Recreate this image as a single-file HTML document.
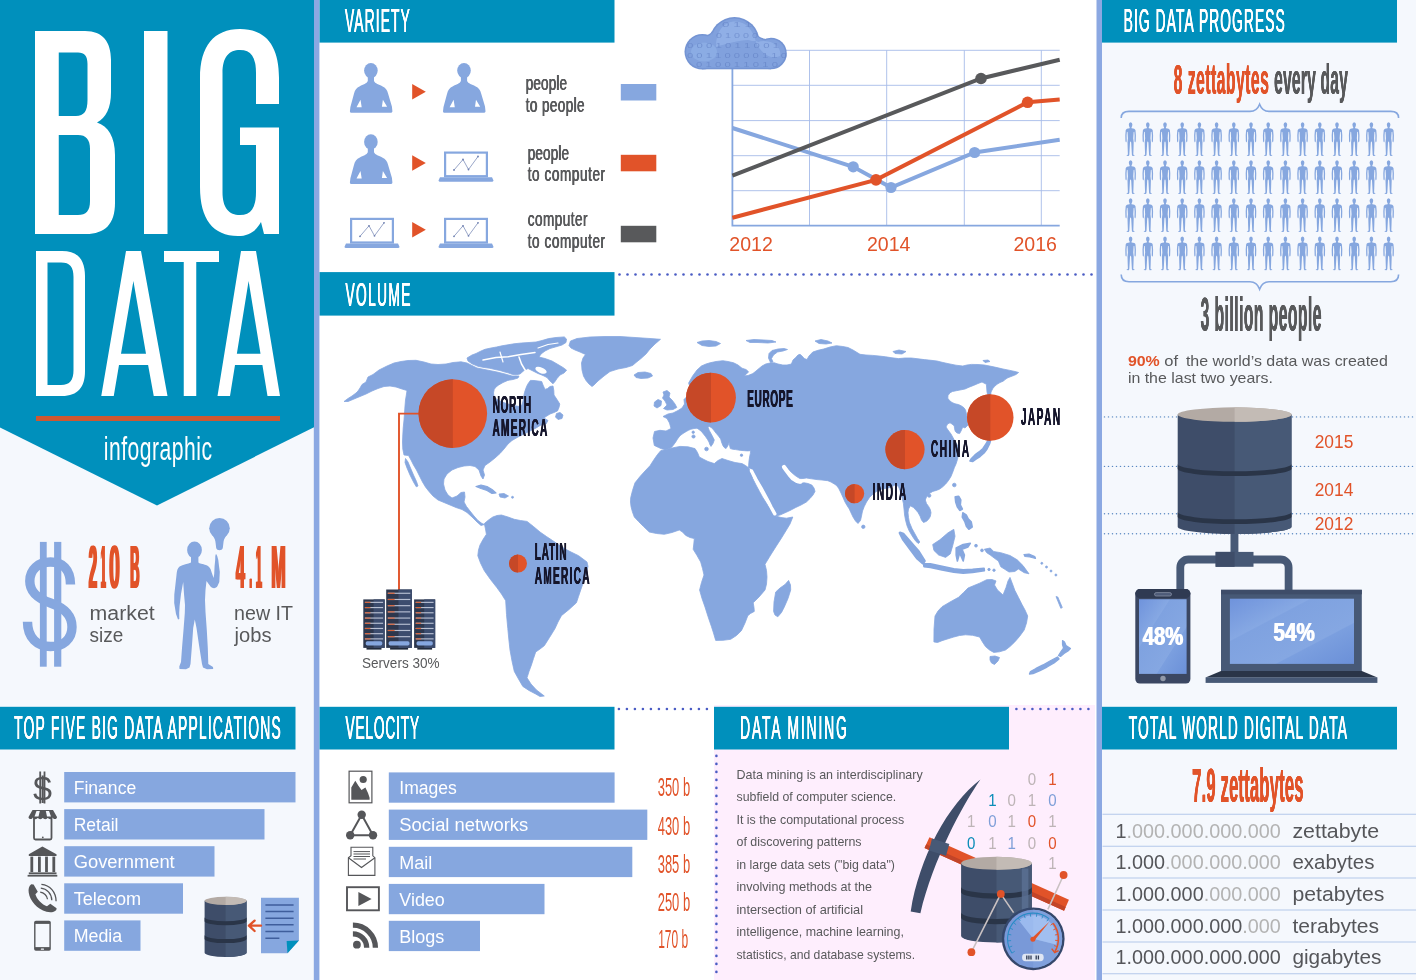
<!DOCTYPE html>
<html lang="en">
<head>
<meta charset="utf-8">
<title>Big Data Infographic</title>
<style>
html,body{margin:0;padding:0;background:#ffffff;}
body{width:1416px;height:980px;overflow:hidden;font-family:"Liberation Sans",sans-serif;}
svg{display:block;will-change:transform;}
svg text{font-family:"Liberation Sans",sans-serif;}
</style>
</head>
<body>
<svg width="1416" height="980" viewBox="0 0 1416 980">
<rect x="0" y="0" width="1416" height="980" fill="#ffffff"/>
<rect x="0" y="0" width="316" height="980" fill="#f5f8fd"/>
<rect x="1100" y="0" width="316" height="980" fill="#f5f8fd"/>
<rect x="714" y="705" width="381" height="275" fill="#feeefd"/>
<rect x="313.8" y="0" width="5.6" height="980" fill="#8ba8e2"/>
<rect x="1096.5" y="0" width="5.5" height="980" fill="#8ba8e2"/>
<g fill="#4a5cc4"><circle cx="619.5" cy="274.5" r="1.3"/><circle cx="627.5" cy="274.5" r="1.3"/><circle cx="635.5" cy="274.5" r="1.3"/><circle cx="643.5" cy="274.5" r="1.3"/><circle cx="651.5" cy="274.5" r="1.3"/><circle cx="659.5" cy="274.5" r="1.3"/><circle cx="667.5" cy="274.5" r="1.3"/><circle cx="675.5" cy="274.5" r="1.3"/><circle cx="683.5" cy="274.5" r="1.3"/><circle cx="691.5" cy="274.5" r="1.3"/><circle cx="699.5" cy="274.5" r="1.3"/><circle cx="707.5" cy="274.5" r="1.3"/><circle cx="715.5" cy="274.5" r="1.3"/><circle cx="723.5" cy="274.5" r="1.3"/><circle cx="731.5" cy="274.5" r="1.3"/><circle cx="739.5" cy="274.5" r="1.3"/><circle cx="747.5" cy="274.5" r="1.3"/><circle cx="755.5" cy="274.5" r="1.3"/><circle cx="763.5" cy="274.5" r="1.3"/><circle cx="771.5" cy="274.5" r="1.3"/><circle cx="779.5" cy="274.5" r="1.3"/><circle cx="787.5" cy="274.5" r="1.3"/><circle cx="795.5" cy="274.5" r="1.3"/><circle cx="803.5" cy="274.5" r="1.3"/><circle cx="811.5" cy="274.5" r="1.3"/><circle cx="819.5" cy="274.5" r="1.3"/><circle cx="827.5" cy="274.5" r="1.3"/><circle cx="835.5" cy="274.5" r="1.3"/><circle cx="843.5" cy="274.5" r="1.3"/><circle cx="851.5" cy="274.5" r="1.3"/><circle cx="859.5" cy="274.5" r="1.3"/><circle cx="867.5" cy="274.5" r="1.3"/><circle cx="875.5" cy="274.5" r="1.3"/><circle cx="883.5" cy="274.5" r="1.3"/><circle cx="891.5" cy="274.5" r="1.3"/><circle cx="899.5" cy="274.5" r="1.3"/><circle cx="907.5" cy="274.5" r="1.3"/><circle cx="915.5" cy="274.5" r="1.3"/><circle cx="923.5" cy="274.5" r="1.3"/><circle cx="931.5" cy="274.5" r="1.3"/><circle cx="939.5" cy="274.5" r="1.3"/><circle cx="947.5" cy="274.5" r="1.3"/><circle cx="955.5" cy="274.5" r="1.3"/><circle cx="963.5" cy="274.5" r="1.3"/><circle cx="971.5" cy="274.5" r="1.3"/><circle cx="979.5" cy="274.5" r="1.3"/><circle cx="987.5" cy="274.5" r="1.3"/><circle cx="995.5" cy="274.5" r="1.3"/><circle cx="1003.5" cy="274.5" r="1.3"/><circle cx="1011.5" cy="274.5" r="1.3"/><circle cx="1019.5" cy="274.5" r="1.3"/><circle cx="1027.5" cy="274.5" r="1.3"/><circle cx="1035.5" cy="274.5" r="1.3"/><circle cx="1043.5" cy="274.5" r="1.3"/><circle cx="1051.5" cy="274.5" r="1.3"/><circle cx="1059.5" cy="274.5" r="1.3"/><circle cx="1067.5" cy="274.5" r="1.3"/><circle cx="1075.5" cy="274.5" r="1.3"/><circle cx="1083.5" cy="274.5" r="1.3"/><circle cx="1091.5" cy="274.5" r="1.3"/></g>
<g fill="#4a5cc4"><circle cx="618.9" cy="709" r="1.3"/><circle cx="626.9" cy="709" r="1.3"/><circle cx="634.9" cy="709" r="1.3"/><circle cx="642.9" cy="709" r="1.3"/><circle cx="650.9" cy="709" r="1.3"/><circle cx="658.9" cy="709" r="1.3"/><circle cx="666.9" cy="709" r="1.3"/><circle cx="674.9" cy="709" r="1.3"/><circle cx="682.9" cy="709" r="1.3"/><circle cx="690.9" cy="709" r="1.3"/><circle cx="698.9" cy="709" r="1.3"/><circle cx="706.9" cy="709" r="1.3"/></g>
<g fill="#4a5cc4"><circle cx="1016.4" cy="709" r="1.3"/><circle cx="1024.4" cy="709" r="1.3"/><circle cx="1032.4" cy="709" r="1.3"/><circle cx="1040.4" cy="709" r="1.3"/><circle cx="1048.4" cy="709" r="1.3"/><circle cx="1056.4" cy="709" r="1.3"/><circle cx="1064.4" cy="709" r="1.3"/><circle cx="1072.4" cy="709" r="1.3"/><circle cx="1080.4" cy="709" r="1.3"/><circle cx="1088.4" cy="709" r="1.3"/></g>
<g fill="#4a5cc4"><circle cx="716.4" cy="755.9" r="1.3"/><circle cx="716.4" cy="763.9" r="1.3"/><circle cx="716.4" cy="771.9" r="1.3"/><circle cx="716.4" cy="779.9" r="1.3"/><circle cx="716.4" cy="787.9" r="1.3"/><circle cx="716.4" cy="795.9" r="1.3"/><circle cx="716.4" cy="803.9" r="1.3"/><circle cx="716.4" cy="811.9" r="1.3"/><circle cx="716.4" cy="819.9" r="1.3"/><circle cx="716.4" cy="827.9" r="1.3"/><circle cx="716.4" cy="835.9" r="1.3"/><circle cx="716.4" cy="843.9" r="1.3"/><circle cx="716.4" cy="851.9" r="1.3"/><circle cx="716.4" cy="859.9" r="1.3"/><circle cx="716.4" cy="867.9" r="1.3"/><circle cx="716.4" cy="875.9" r="1.3"/><circle cx="716.4" cy="883.9" r="1.3"/><circle cx="716.4" cy="891.9" r="1.3"/><circle cx="716.4" cy="899.9" r="1.3"/><circle cx="716.4" cy="907.9" r="1.3"/><circle cx="716.4" cy="915.9" r="1.3"/><circle cx="716.4" cy="923.9" r="1.3"/><circle cx="716.4" cy="931.9" r="1.3"/><circle cx="716.4" cy="939.9" r="1.3"/><circle cx="716.4" cy="947.9" r="1.3"/><circle cx="716.4" cy="955.9" r="1.3"/><circle cx="716.4" cy="963.9" r="1.3"/><circle cx="716.4" cy="971.9" r="1.3"/></g>
<rect x="319.5" y="0" width="295" height="42.6" fill="#0090bc"/>
<text transform="translate(344.80,31.65) scale(0.4150,1)" font-size="33.2" fill="#ffffff" font-weight="normal" letter-spacing="2.776" >VARIETY</text><text transform="translate(344.98,31.65) scale(0.4150,1)" font-size="33.2" fill="#ffffff" font-weight="normal" letter-spacing="2.776" >VARIETY</text><text transform="translate(345.16,31.65) scale(0.4150,1)" font-size="33.2" fill="#ffffff" font-weight="normal" letter-spacing="2.776" >VARIETY</text>
<rect x="319.5" y="272.1" width="295" height="43.5" fill="#0090bc"/>
<text transform="translate(345.30,305.7) scale(0.4150,1)" font-size="33.2" fill="#ffffff" font-weight="normal" letter-spacing="3.255" >VOLUME</text><text transform="translate(345.48,305.7) scale(0.4150,1)" font-size="33.2" fill="#ffffff" font-weight="normal" letter-spacing="3.255" >VOLUME</text><text transform="translate(345.66,305.7) scale(0.4150,1)" font-size="33.2" fill="#ffffff" font-weight="normal" letter-spacing="3.255" >VOLUME</text>
<rect x="319.5" y="706.8" width="295" height="42.7" fill="#0090bc"/>
<text transform="translate(345.30,738.9) scale(0.4150,1)" font-size="33.2" fill="#ffffff" font-weight="normal" letter-spacing="1.893" >VELOCITY</text><text transform="translate(345.48,738.9) scale(0.4150,1)" font-size="33.2" fill="#ffffff" font-weight="normal" letter-spacing="1.893" >VELOCITY</text><text transform="translate(345.66,738.9) scale(0.4150,1)" font-size="33.2" fill="#ffffff" font-weight="normal" letter-spacing="1.893" >VELOCITY</text>
<rect x="714" y="706.8" width="295" height="42.7" fill="#0090bc"/>
<text transform="translate(740.00,738.9) scale(0.4150,1)" font-size="33.2" fill="#ffffff" font-weight="normal" letter-spacing="4.608" >DATA MINING</text><text transform="translate(740.18,738.9) scale(0.4150,1)" font-size="33.2" fill="#ffffff" font-weight="normal" letter-spacing="4.608" >DATA MINING</text><text transform="translate(740.36,738.9) scale(0.4150,1)" font-size="33.2" fill="#ffffff" font-weight="normal" letter-spacing="4.608" >DATA MINING</text>
<rect x="1102" y="0" width="295" height="42.6" fill="#0090bc"/>
<text transform="translate(1123.50,31.5) scale(0.4150,1)" font-size="33.2" fill="#ffffff" font-weight="normal" letter-spacing="2.669" >BIG DATA PROGRESS</text><text transform="translate(1123.68,31.5) scale(0.4150,1)" font-size="33.2" fill="#ffffff" font-weight="normal" letter-spacing="2.669" >BIG DATA PROGRESS</text><text transform="translate(1123.86,31.5) scale(0.4150,1)" font-size="33.2" fill="#ffffff" font-weight="normal" letter-spacing="2.669" >BIG DATA PROGRESS</text>
<rect x="1102" y="706.8" width="295" height="42.7" fill="#0090bc"/>
<text transform="translate(1128.60,738.9) scale(0.4150,1)" font-size="33.2" fill="#ffffff" font-weight="normal" letter-spacing="2.735" >TOTAL WORLD DIGITAL DATA</text><text transform="translate(1128.78,738.9) scale(0.4150,1)" font-size="33.2" fill="#ffffff" font-weight="normal" letter-spacing="2.735" >TOTAL WORLD DIGITAL DATA</text><text transform="translate(1128.96,738.9) scale(0.4150,1)" font-size="33.2" fill="#ffffff" font-weight="normal" letter-spacing="2.735" >TOTAL WORLD DIGITAL DATA</text>
<rect x="0" y="706.8" width="295.5" height="42.7" fill="#0090bc"/>
<text transform="translate(14.00,738.9) scale(0.4150,1)" font-size="33.2" fill="#ffffff" font-weight="normal" letter-spacing="3.049" >TOP FIVE BIG DATA APPLICATIONS</text><text transform="translate(14.18,738.9) scale(0.4150,1)" font-size="33.2" fill="#ffffff" font-weight="normal" letter-spacing="3.049" >TOP FIVE BIG DATA APPLICATIONS</text><text transform="translate(14.36,738.9) scale(0.4150,1)" font-size="33.2" fill="#ffffff" font-weight="normal" letter-spacing="3.049" >TOP FIVE BIG DATA APPLICATIONS</text>
<polygon points="0,0 314,0 314,427.2 157,505.5 0,427.6" fill="#0090bc"/>
<path d="M35,31 H85 C103,31 111,42 111,60 V92 C111,108 106,118 97,122.5 C108,126 115,137 115,155 V203 C115,224 105,234 86,234 H35 Z M58.75,52.5 H78 C84.5,52.5 87.5,56 87.5,64 V100 C87.5,111 84,116 76,116 H58.75 Z M58.75,135 H78 C86,135 90,139.5 90,149 V201 C90,211 86,215 78,215 H58.75 Z M144,31 H167.5 V234 H144 Z M279,104 V78 C279,46 266,29 240,29 C214,29 200,46 200,78 V187 C200,219 213,236 238,236 C249,236 256,231 261,222 L264,234 H279 V127.5 H240 V145 H256 V192 C256,208 251,215 240,215 C229,215 222.5,208 222.5,192 V73 C222.5,57 229,50 240,50 C251,50 256,57 256,73 V104 Z" fill="#ffffff" fill-rule="evenodd"/>
<path d="M36,251 H62 C78,251 85,260 85,276 V371 C85,387 78,396 62,396 H36 Z M47.5,262.5 H61 C70,262.5 73.5,267 73.5,277 V370 C73.5,380 70,385 61,385 H47.5 Z M101.25,396 L126,251 H141 L167.5,396 H153.75 L148.1,365 H119 L113.75,396 Z M121,353.75 H146 L133.4,281 Z M164,251 H219 V262 H196.25 V396 H183.75 V262 H164 Z M217.5,396 L241,251 H256 L280,396 H267.5 L262.4,365 H235 L230,396 Z M236.85,353.75 H260.5 L248.6,281 Z" fill="#ffffff" fill-rule="evenodd"/>
<rect x="36" y="416" width="244" height="5" fill="#cf5730"/>
<text transform="translate(103.80,460) scale(0.6400,1)" font-size="33" fill="#ffffff" font-weight="normal" letter-spacing="0.779" >infographic</text>
<g fill="#86a7df"><rect x="39.9" y="541.9" width="6.8" height="124.8"/><rect x="54.1" y="541.9" width="7.2" height="124.8"/></g>
<path d="M70.5,584.5 C70.5,569 62,562 50.5,562 C38.5,562 29.8,569.5 29.8,581 C29.8,592.5 38,598.5 50.5,603 C63,607.5 72,614 72,627 C72,639.5 63,646.5 50.5,646.5 C37.5,646.5 27.5,638 27.5,621.8" fill="none" stroke="#86a7df" stroke-width="9.4"/>
<text transform="translate(88.10,587.9) scale(0.2348,1)" font-size="62" fill="#e15329" font-weight="bold">2</text><text transform="translate(88.90,587.9) scale(0.2348,1)" font-size="62" fill="#e15329" font-weight="bold">2</text><text transform="translate(89.70,587.9) scale(0.2348,1)" font-size="62" fill="#e15329" font-weight="bold">2</text>
<text transform="translate(100.30,587.9) scale(0.1275,1)" font-size="62" fill="#e15329" font-weight="bold">1</text><text transform="translate(101.10,587.9) scale(0.1275,1)" font-size="62" fill="#e15329" font-weight="bold">1</text><text transform="translate(101.90,587.9) scale(0.1275,1)" font-size="62" fill="#e15329" font-weight="bold">1</text>
<text transform="translate(108.50,587.9) scale(0.3043,1)" font-size="62" fill="#e15329" font-weight="bold">0</text><text transform="translate(109.30,587.9) scale(0.3043,1)" font-size="62" fill="#e15329" font-weight="bold">0</text><text transform="translate(110.10,587.9) scale(0.3043,1)" font-size="62" fill="#e15329" font-weight="bold">0</text>
<text transform="translate(129.40,587.9) scale(0.2056,1)" font-size="62" fill="#e15329" font-weight="bold">B</text><text transform="translate(130.20,587.9) scale(0.2056,1)" font-size="62" fill="#e15329" font-weight="bold">B</text><text transform="translate(131.00,587.9) scale(0.2056,1)" font-size="62" fill="#e15329" font-weight="bold">B</text>
<text transform="translate(235.20,587.9) scale(0.2551,1)" font-size="62" fill="#e15329" font-weight="bold">4</text><text transform="translate(236.00,587.9) scale(0.2551,1)" font-size="62" fill="#e15329" font-weight="bold">4</text><text transform="translate(236.80,587.9) scale(0.2551,1)" font-size="62" fill="#e15329" font-weight="bold">4</text>
<text transform="translate(248.70,587.9) scale(0.1971,1)" font-size="62" fill="#e15329" font-weight="bold">.</text><text transform="translate(249.00,587.9) scale(0.1971,1)" font-size="62" fill="#e15329" font-weight="bold">.</text><text transform="translate(249.30,587.9) scale(0.1971,1)" font-size="62" fill="#e15329" font-weight="bold">.</text>
<text transform="translate(255.20,587.9) scale(0.1681,1)" font-size="62" fill="#e15329" font-weight="bold">1</text><text transform="translate(256.00,587.9) scale(0.1681,1)" font-size="62" fill="#e15329" font-weight="bold">1</text><text transform="translate(256.80,587.9) scale(0.1681,1)" font-size="62" fill="#e15329" font-weight="bold">1</text>
<text transform="translate(270.40,587.9) scale(0.2802,1)" font-size="62" fill="#e15329" font-weight="bold">M</text><text transform="translate(271.20,587.9) scale(0.2802,1)" font-size="62" fill="#e15329" font-weight="bold">M</text><text transform="translate(272.00,587.9) scale(0.2802,1)" font-size="62" fill="#e15329" font-weight="bold">M</text>
<text x="89.6" y="620.2" font-size="20" fill="#58595b" font-weight="normal" text-anchor="start" textLength="65.1" lengthAdjust="spacingAndGlyphs" >market</text>
<text x="89.6" y="642.3" font-size="20" fill="#58595b" font-weight="normal" text-anchor="start" textLength="33.7" lengthAdjust="spacingAndGlyphs" >size</text>
<text x="234.1" y="620.2" font-size="20" fill="#58595b" font-weight="normal" text-anchor="start" textLength="58.9" lengthAdjust="spacingAndGlyphs" >new IT</text>
<text x="234.6" y="642.3" font-size="20" fill="#58595b" font-weight="normal" text-anchor="start" textLength="37" lengthAdjust="spacingAndGlyphs" >jobs</text>
<path d="M191,557 L191,562.5 C188,564 183,564.5 179.6,566.5 C177.5,568 176.8,571 176.5,575 L174.3,594.5 L174.2,603 L176,614 L178,619.5 L179.3,619 L179.2,613 L179.6,606 L181,594 L183.2,582 L184,594 L185,605 L184.8,613 L183.5,630 L182,648 L181,662 L179.3,666.5 L179.5,669 L186,669.3 L189.5,667.5 L190.5,664 L192,645 L193.2,628 L194.8,619.5 L196.5,628 L199,645 L202,664 L203,667.5 L207,669.3 L213.2,669 L213,667 L208.3,664 L207.8,648 L206.8,630 L205.5,612 L205,600 L205.5,590 L206.5,581 L210.5,586.5 C213,589 216,588.5 217.5,586 L219.3,582 L219.8,572 L219,566 L218.3,560 L217.2,556 L216,553.8 L215.3,556 L215.2,560 L214.6,566 L214.2,574 L213.6,578 L211.5,572 C210.5,568 209,566 206,565 C203,564 199,563.5 198.4,562.5 L198.4,557 Z" fill="#86a7df"/>
<ellipse cx="194.5" cy="550" rx="7.4" ry="8.5" fill="#86a7df"/>
<circle cx="219.5" cy="528.2" r="10.3" fill="#86a7df"/><path d="M213,536 C214.5,538.5 215.4,540 215.6,543 L216.2,548 C217,551 222,551 222.8,548 L223.4,543 C223.6,540 224.5,538.5 226,536 Z" fill="#86a7df"/>
<rect x="64.2" y="772" width="231.3" height="30.4" fill="#86a7df"/>
<text x="73.7" y="793.7" font-size="18.8" fill="#ffffff" font-weight="normal" text-anchor="start" textLength="62.5" lengthAdjust="spacingAndGlyphs" >Finance</text>
<rect x="64.2" y="809.1" width="200.3" height="30.4" fill="#86a7df"/>
<text x="73.7" y="830.8000000000001" font-size="18.8" fill="#ffffff" font-weight="normal" text-anchor="start" textLength="44.8" lengthAdjust="spacingAndGlyphs" >Retail</text>
<rect x="64.2" y="846.2" width="150.3" height="30.4" fill="#86a7df"/>
<text x="73.7" y="867.9000000000001" font-size="18.8" fill="#ffffff" font-weight="normal" text-anchor="start" textLength="101" lengthAdjust="spacingAndGlyphs" >Government</text>
<rect x="64.2" y="883.3" width="118.8" height="30.4" fill="#86a7df"/>
<text x="73.7" y="905.0" font-size="18.8" fill="#ffffff" font-weight="normal" text-anchor="start" textLength="67.5" lengthAdjust="spacingAndGlyphs" >Telecom</text>
<rect x="64.2" y="920.4" width="76.3" height="30.4" fill="#86a7df"/>
<text x="73.7" y="942.1" font-size="18.8" fill="#ffffff" font-weight="normal" text-anchor="start" textLength="48.5" lengthAdjust="spacingAndGlyphs" >Media</text>
<text x="42.5" y="800" font-size="33" fill="#555659" font-weight="normal" text-anchor="middle" textLength="19" lengthAdjust="spacingAndGlyphs" >$</text>
<g fill="#555659"><rect x="39.3" y="771.5" width="1.8" height="32"/><rect x="43.6" y="771.5" width="1.8" height="32"/></g>
<g fill="none" stroke="#555659" stroke-width="1.8"><rect x="34" y="817" width="17.5" height="22.5" rx="1.5"/></g><path d="M32.5,810 H53 L57,817 C57,819.5 53.5,819.8 52.8,817.5 C52,819.8 48.6,819.8 47.8,817.5 C47,819.8 43.6,819.8 42.8,817.5 C42,819.8 38.6,819.8 37.8,817.5 C37,819.8 33.6,819.8 32.8,817.5 C32,819.8 28.5,819.5 28.5,817 Z" fill="#555659"/><g fill="#f5f8fd"><path d="M36.5,811 L34.5,816.5 L38.5,816.5 L39.8,811 Z"/><path d="M45.8,811 L47,816.5 L51,816.5 L49,811 Z"/></g><circle cx="42.8" cy="837.3" r="0.9" fill="#555659"/>
<g fill="#555659"><path d="M42.4,846.4 L56.5,854.3 V855.9 H28.8 V854.3 Z"/><rect x="30.4" y="856.6" width="2.8" height="15.5"/><rect x="38" y="856.6" width="2.8" height="15.5"/><rect x="45.1" y="856.6" width="2.8" height="15.5"/><rect x="52.4" y="856.6" width="2.8" height="15.5"/><rect x="28.8" y="872.4" width="27.7" height="1.9"/><rect x="27.6" y="874.9" width="29.7" height="1.7"/></g>
<path d="M31.2,884.3 C28.9,886 28.2,889 28.7,892.5 C30,901 37,909 46.5,911.8 C50.5,912.8 54.2,912.3 56.3,910 L56.6,908.3 L50.3,903.8 L47,906.3 C42.2,905 36.6,899 35.4,894.3 L37.8,891.8 L33.6,884.6 Z" fill="#555659"/><g fill="none" stroke="#555659" stroke-width="1.3"><path d="M40.2,892.2 C43.8,892.6 47.2,895.5 47.5,899.3"/><path d="M40.8,888.2 C46.8,888.8 51.6,893.5 51.8,900.2"/><path d="M41.4,884.3 C50,885 56,892 56.1,901.2"/></g>
<rect x="34.1" y="920.8" width="16.7" height="30" rx="1.8" fill="#555659"/><rect x="35.5" y="923.9" width="13.9" height="23.2" fill="#f5f8fd"/><rect x="40.8" y="948.6" width="3.2" height="1.2" rx="0.5" fill="#f5f8fd"/>
<path d="M204.6,900.8 V952.8 A21.0,4.1 0 0 0 246.6,952.8 V900.8 Z" fill="#3e4d69"/><path d="M225.6,900.8 V956.9 A21.0,4.1 0 0 0 246.6,952.8 V900.8 Z" fill="#475976"/><path d="M204.6,917.18 A21.0,4.1 0 0 0 246.6,917.18 V921.18 A21.0,4.1 0 0 1 204.6,921.18 Z" fill="#2a3548"/><path d="M204.6,935.016 A21.0,4.1 0 0 0 246.6,935.016 V939.016 A21.0,4.1 0 0 1 204.6,939.016 Z" fill="#2a3548"/><ellipse cx="225.6" cy="900.8" rx="21.0" ry="4.1" fill="#b3aaa4"/><path d="M225.6,896.6999999999999 A21.0,4.1 0 0 1 225.6,904.9 Z" fill="#c3bbb5"/>
<path d="M261,897.7 H298.9 V940.5 L287.5,953.2 H261 Z" fill="#86a7df"/><path d="M286.6,940.9 L298.9,940.5 L287.5,953.2 Z" fill="#0090bc"/><g stroke="#3f5e9c" stroke-width="1.5"><path d="M265.4,904.9 H293.6 M265.4,911.5 H293.6 M265.4,918.2 H293.6 M265.4,924.8 H293.6 M265.4,931.4 H293.6 M265.4,938.2 H279.4"/></g><path d="M261,925.7 H250 M254.6,920.6 L248.9,925.7 L254.6,931" fill="none" stroke="#e15329" stroke-width="2.3" stroke-linejoin="round" stroke-linecap="round"/>
<path d="M367.79999999999995,75 L367.79999999999995,81 C366.9,83.5 362.9,84.5 359.9,86.2 C356.4,87.5 354.9,90 353.9,94 L350.4,107 L349.9,111.2 C349.9,112.3 350.59999999999997,112.8 351.9,112.8 L390.2,112.8 C391.5,112.8 392.4,112.3 392.4,111.2 L391.9,106.5 L388.2,94 C387.2,90 385.7,87.5 382.2,86.2 C379.2,84.5 374.9,83.5 374.0,81 L374.0,75 Z" fill="#86a7df"/><ellipse cx="370.9" cy="70.6" rx="6.8" ry="7.7" fill="#86a7df"/><path d="M360.5,99.7 L356.5,107.2 L361.7,107.2 Z M382.9,99.7 L381.9,106.7 L387.09999999999997,106.7 Z" fill="#ffffff"/>
<path d="M460.9,75 L460.9,81 C460,83.5 456,84.5 453,86.2 C449.5,87.5 448,90 447,94 L443.5,107 L443,111.2 C443,112.3 443.7,112.8 445,112.8 L483.3,112.8 C484.6,112.8 485.5,112.3 485.5,111.2 L485,106.5 L481.3,94 C480.3,90 478.8,87.5 475.3,86.2 C472.3,84.5 468,83.5 467.1,81 L467.1,75 Z" fill="#86a7df"/><ellipse cx="464" cy="70.6" rx="6.8" ry="7.7" fill="#86a7df"/><path d="M453.6,99.7 L449.6,107.2 L454.8,107.2 Z M476,99.7 L475,106.7 L480.2,106.7 Z" fill="#ffffff"/>
<path d="M367.79999999999995,146.3 L367.79999999999995,152.3 C366.9,154.8 362.9,155.8 359.9,157.5 C356.4,158.8 354.9,161.3 353.9,165.3 L350.4,178.3 L349.9,182.5 C349.9,183.60000000000002 350.59999999999997,184.10000000000002 351.9,184.10000000000002 L390.2,184.10000000000002 C391.5,184.10000000000002 392.4,183.60000000000002 392.4,182.5 L391.9,177.8 L388.2,165.3 C387.2,161.3 385.7,158.8 382.2,157.5 C379.2,155.8 374.9,154.8 374.0,152.3 L374.0,146.3 Z" fill="#86a7df"/><ellipse cx="370.9" cy="141.9" rx="6.8" ry="7.7" fill="#86a7df"/><path d="M360.5,171.0 L356.5,178.5 L361.7,178.5 Z M382.9,171.0 L381.9,178.0 L387.09999999999997,178.0 Z" fill="#ffffff"/>
<rect x="445.1" y="152.6" width="41.8" height="23.6" fill="#ffffff" stroke="#86a7df" stroke-width="2.2"/><path d="M440,177.3 H492 L493.5,180.5 C493.5,181.5 492.5,181.8 491.5,181.8 H440.5 C439.5,181.8 438.5,181.5 438.5,180.5 Z" fill="#86a7df"/><polyline points="454,170.0 463,159.5 468.5,169.5 478,156.5" fill="none" stroke="#6d7fb0" stroke-width="0.7"/><circle cx="454" cy="170.0" r="0.9" fill="#6d7fb0"/><circle cx="463" cy="159.5" r="0.9" fill="#6d7fb0"/><circle cx="468.5" cy="169.5" r="0.9" fill="#6d7fb0"/><circle cx="478" cy="156.5" r="0.9" fill="#6d7fb0"/>
<rect x="351.1" y="218.9" width="41.8" height="23.6" fill="#ffffff" stroke="#86a7df" stroke-width="2.2"/><path d="M346,243.60000000000002 H398 L399.5,246.8 C399.5,247.8 398.5,248.10000000000002 397.5,248.10000000000002 H346.5 C345.5,248.10000000000002 344.5,247.8 344.5,246.8 Z" fill="#86a7df"/><polyline points="360,236.3 369,225.8 374.5,235.8 384,222.8" fill="none" stroke="#6d7fb0" stroke-width="0.7"/><circle cx="360" cy="236.3" r="0.9" fill="#6d7fb0"/><circle cx="369" cy="225.8" r="0.9" fill="#6d7fb0"/><circle cx="374.5" cy="235.8" r="0.9" fill="#6d7fb0"/><circle cx="384" cy="222.8" r="0.9" fill="#6d7fb0"/>
<rect x="445.1" y="218.9" width="41.8" height="23.6" fill="#ffffff" stroke="#86a7df" stroke-width="2.2"/><path d="M440,243.60000000000002 H492 L493.5,246.8 C493.5,247.8 492.5,248.10000000000002 491.5,248.10000000000002 H440.5 C439.5,248.10000000000002 438.5,247.8 438.5,246.8 Z" fill="#86a7df"/><polyline points="454,236.3 463,225.8 468.5,235.8 478,222.8" fill="none" stroke="#6d7fb0" stroke-width="0.7"/><circle cx="454" cy="236.3" r="0.9" fill="#6d7fb0"/><circle cx="463" cy="225.8" r="0.9" fill="#6d7fb0"/><circle cx="468.5" cy="235.8" r="0.9" fill="#6d7fb0"/><circle cx="478" cy="222.8" r="0.9" fill="#6d7fb0"/>
<polygon points="412.2,84.0 425.8,91.8 412.2,99.6" fill="#e15329"/>
<polygon points="412.2,155.2 425.8,163 412.2,170.8" fill="#e15329"/>
<polygon points="412.2,221.89999999999998 425.8,229.7 412.2,237.5" fill="#e15329"/>
<text transform="translate(525.40,90.3) scale(0.6600,1)" font-size="20.5" fill="#58595b" font-weight="normal" letter-spacing="0.232" >people</text><text transform="translate(525.70,90.3) scale(0.6600,1)" font-size="20.5" fill="#58595b" font-weight="normal" letter-spacing="0.232" >people</text><text transform="translate(526.00,90.3) scale(0.6600,1)" font-size="20.5" fill="#58595b" font-weight="normal" letter-spacing="0.232" >people</text>
<text transform="translate(525.40,111.8) scale(0.6600,1)" font-size="20.5" fill="#58595b" font-weight="normal" letter-spacing="0.610" >to people</text><text transform="translate(525.70,111.8) scale(0.6600,1)" font-size="20.5" fill="#58595b" font-weight="normal" letter-spacing="0.610" >to people</text><text transform="translate(526.00,111.8) scale(0.6600,1)" font-size="20.5" fill="#58595b" font-weight="normal" letter-spacing="0.610" >to people</text>
<text transform="translate(527.40,160) scale(0.6600,1)" font-size="20.5" fill="#58595b" font-weight="normal" letter-spacing="0.232" >people</text><text transform="translate(527.70,160) scale(0.6600,1)" font-size="20.5" fill="#58595b" font-weight="normal" letter-spacing="0.232" >people</text><text transform="translate(528.00,160) scale(0.6600,1)" font-size="20.5" fill="#58595b" font-weight="normal" letter-spacing="0.232" >people</text>
<text transform="translate(527.40,181.4) scale(0.6600,1)" font-size="20.5" fill="#58595b" font-weight="normal" letter-spacing="0.902" >to computer</text><text transform="translate(527.70,181.4) scale(0.6600,1)" font-size="20.5" fill="#58595b" font-weight="normal" letter-spacing="0.902" >to computer</text><text transform="translate(528.00,181.4) scale(0.6600,1)" font-size="20.5" fill="#58595b" font-weight="normal" letter-spacing="0.902" >to computer</text>
<text transform="translate(527.40,226.2) scale(0.6600,1)" font-size="20.5" fill="#58595b" font-weight="normal" letter-spacing="0.757" >computer</text><text transform="translate(527.70,226.2) scale(0.6600,1)" font-size="20.5" fill="#58595b" font-weight="normal" letter-spacing="0.757" >computer</text><text transform="translate(528.00,226.2) scale(0.6600,1)" font-size="20.5" fill="#58595b" font-weight="normal" letter-spacing="0.757" >computer</text>
<text transform="translate(527.40,248) scale(0.6600,1)" font-size="20.5" fill="#58595b" font-weight="normal" letter-spacing="0.902" >to computer</text><text transform="translate(527.70,248) scale(0.6600,1)" font-size="20.5" fill="#58595b" font-weight="normal" letter-spacing="0.902" >to computer</text><text transform="translate(528.00,248) scale(0.6600,1)" font-size="20.5" fill="#58595b" font-weight="normal" letter-spacing="0.902" >to computer</text>
<rect x="620.8" y="84" width="35.5" height="16.5" fill="#86a7df"/>
<rect x="620.8" y="154.8" width="35.5" height="16.5" fill="#e15329"/>
<rect x="620.8" y="225.8" width="35.5" height="16.5" fill="#58595b"/>
<path d="M732.4,50.3 H1059.7 M732.4,85.3 H1059.7 M732.4,120.6 H1059.7 M732.4,155.7 H1059.7 M732.4,190.7 H1059.7 M809.5,50.3 V225.6 M886.7,50.3 V225.6 M964.3,50.3 V225.6 M1041.3,50.3 V225.6" fill="none" stroke="#a6bbe9" stroke-width="0.9"/>
<path d="M732.4,66 V225.6 H1059.7" fill="none" stroke="#86a7df" stroke-width="1.8"/>
<polyline points="732.4,128 853.2,166.8 891,187.5 974.6,152.5 1059.7,139.8" fill="none" stroke="#86a7df" stroke-width="4"/>
<circle cx="853.2" cy="166.8" r="5.6" fill="#86a7df"/>
<circle cx="891" cy="187.5" r="5.6" fill="#86a7df"/>
<circle cx="974.6" cy="152.5" r="5.6" fill="#86a7df"/>
<polyline points="732.4,175.7 981,78.5 1059.7,59.7" fill="none" stroke="#58595b" stroke-width="4"/>
<circle cx="981" cy="78.5" r="5.8" fill="#58595b"/>
<polyline points="732.4,217.7 876,179.9 1027.6,102.3 1059.7,99.5" fill="none" stroke="#e15329" stroke-width="4"/>
<circle cx="876" cy="179.9" r="5.8" fill="#e15329"/>
<circle cx="1027.6" cy="102.3" r="5.8" fill="#e15329"/>
<text x="729.3" y="251" font-size="19.5" fill="#e15329" font-weight="normal" text-anchor="start" textLength="43.5" lengthAdjust="spacingAndGlyphs" >2012</text>
<text x="867" y="251" font-size="19.5" fill="#e15329" font-weight="normal" text-anchor="start" textLength="43.5" lengthAdjust="spacingAndGlyphs" >2014</text>
<text x="1013.4" y="251" font-size="19.5" fill="#e15329" font-weight="normal" text-anchor="start" textLength="43.5" lengthAdjust="spacingAndGlyphs" >2016</text>
<g fill="#7494d3" opacity="1"><circle cx="702.3" cy="51.8" r="17.8"/><circle cx="734.5" cy="42" r="25"/><circle cx="771" cy="53.5" r="15.8"/><rect x="702" y="44" width="69" height="25.3"/><path d="M704.5,35.3 Q709.5,35.6 712.5,30.6 L713,40 L704.5,40 Z"/><path d="M754.5,30.5 Q757.5,37.6 765,38.8 L765,46 L754,46 Z"/></g>
<g fill="#81a1dd" opacity="1"><circle cx="702.3" cy="51.8" r="16.2"/><circle cx="734.5" cy="42" r="23.4"/><circle cx="771" cy="53.5" r="14.200000000000001"/><rect x="702" y="44" width="69" height="23.7"/><path d="M704.5,36.9 Q709.5,37.2 712.5,32.2 L713,40 L704.5,40 Z"/><path d="M754.5,32.1 Q757.5,39.2 765,40.4 L765,46 L754,46 Z"/></g>
<ellipse cx="704" cy="52" rx="13" ry="9.5" fill="#8fb0e6" opacity="0.75"/>
<path d="M716,47 C716,31 724,21.5 735,21.5 C746,21.5 753,30 756,42 C761,54 771,60 780,56 C782,50 776,42.5 768,41.5 C764,40.5 761,41 758,42 C756,40 754,42 748,40 C740,40 724,44 716,47 Z" fill="#93b3e8" opacity="0.8"/>
<text x="722" y="27" font-size="7.5" fill="#5d7cc0" font-weight="normal" text-anchor="start" textLength="30" lengthAdjust="spacingAndGlyphs" opacity="0.55">0 1 1</text>
<text x="716" y="37.5" font-size="7.5" fill="#5d7cc0" font-weight="normal" text-anchor="start" textLength="42" lengthAdjust="spacingAndGlyphs" opacity="0.55">0 1 0 0 0</text>
<text x="687" y="48" font-size="7.5" fill="#5d7cc0" font-weight="normal" text-anchor="start" textLength="92" lengthAdjust="spacingAndGlyphs" opacity="0.55">0 0 0 1 0 1 1 0 0 1</text>
<text x="687" y="58" font-size="7.5" fill="#5d7cc0" font-weight="normal" text-anchor="start" textLength="100" lengthAdjust="spacingAndGlyphs" opacity="0.55">0 0 1 1 0 0 0 0 1 1 0</text>
<text x="696" y="67.3" font-size="7.5" fill="#5d7cc0" font-weight="normal" text-anchor="start" textLength="82" lengthAdjust="spacingAndGlyphs" opacity="0.55">0 1 0 0 1 1 0 1 0</text>
<g fill="#86a7df" stroke="#86a7df" stroke-width="0.8" stroke-linejoin="round"><polygon points="344,401.5 348,398.5 352,396 356,393 358,391 360,388 362,384.5 366,382 368,377 373,374.5 379,370 387,366 394,363 401,361.5 408,360.5 416,360.3 424,362 431,364 438,364.5 446,364 453,362.5 461,361.8 467,363 472,365.5 477,368 482,369 487,370 492,371 497,372 505,374 512,376 519,376 518,378 513,379.5 507.8,380.4 503,382.5 498.8,384.9 496,387 494.2,389.4 493.5,393 494,396.5 497,399.5 502,402 508,404 514,405.5 519,406.5 522,405 523,401 523.6,397 524.5,392.5 525.9,388.3 527.5,384.5 530.4,380.4 534,380.5 538,381 541.7,381.5 543,385 545,389.4 547.5,388.5 550,386.5 553,386 553.8,390.5 554,395 557,399.5 559.8,404 559,407.5 557.5,410.9 554,412.5 550,414 546,416.5 544,418 548,420.5 546,424 541,425 536,428 530,431 524,434 518,437 512,440.5 508,444 504,449 500,453.5 495,458 490,462 485,465.5 483,470 484.5,475 483,479 481,476 479,470 475,466.5 470,465.5 464,466 458,467.5 452,470 447,474 444,479 443.5,484 445,490 448,495 452,498 457,496 461,492.5 464.5,492 465,497 464,502 466.5,506.5 470,511 474,516 478,520.5 482,523.5 484.3,524.5 481,525.5 477,522 472,517 467,512.5 462,509.5 456,507.5 450,505 444,502.5 438,500 433,496 429,491.5 425.5,487 422.5,482 419.5,476 416.5,470 413.5,465 411,460 408.5,455.5 404,455 402.8,449 402.5,442 402.8,435 403.2,428 404,420 404.5,413 405,406 405.5,400 406.5,394 407,390.5 402,389 396,387 390,386 384,386.5 378,388.5 372,391 366,394 360,396.5 354,399 348,401.5"/><polygon points="405.5,458.5 408,462 410.5,468 413.5,475 416.5,481.5 418,486 416.3,486.8 413.5,482 410,475 407,468 405,462.5"/><polygon points="467,358 472,355 476,353.5 481,351 485,349.3 491,348 496.5,347 502,345.8 507.8,344.8 514,343.8 521.4,343 529,342.5 536,342 542,340.5 548.5,338.6 556,337.5 564.3,336.9 566.5,339 566,342.5 562,345 556,346.8 550,348.5 545,351 541,354 539,357 545,358.5 552,361 558,364.5 563,367.5 566.6,370.2 564,373 560,375 557,378.5 555,381.5 553,383.8 550,381 547,377.5 543,375.5 538,373.5 533,371 528,368.5 524,370.5 520,374 516,374.8 512,374.3 508,372.8 504,371.8 500,370.5 495,369.5 490,368.3 484,367.5 478,366.3 472,363.8 468,361"/><polygon points="556.5,413.5 560,412.5 563,415 562,418.5 558,419.5 555.5,417"/><polygon points="569,345.5 570.5,341 577,338.5 590,337 605,336.5 620,336.5 635,337.5 650,338.5 660.5,339.3 655,344 650,349 646,354 641,358.5 636,362.5 632.5,365.5 626,367.5 618,369 610,371.5 604,376 598,381 594,385 592,386.5 589,384 586,380.5 583.5,376 582,370 581.5,363 583,358 585.5,354.5 580,352 575,350 571,348"/><polygon points="634,375 638,372.5 645,372 651,373.5 652.5,376 648,378 641,378.5 636,377.5"/><polygon points="663,392 667,390.5 670,393 669,397 672,400 675,404 676.8,407.5 673,409.5 667,410 663.5,408.5 667,405 665,401 662.5,398 664,395"/><polygon points="654.5,402 658,399.5 661.5,401 661,405.5 657,408 654,406"/><polygon points="654.3,445.4 653,438 654.5,431.5 660,430.3 666,431 671,428.5 669.5,423 667,418.5 663,416.5 668,414 673,413 678,410.5 682,408 684.5,404 684,399.5 686.5,397 688,401 695,395 691,390 688.6,383 692.8,375.7 697,370 701.4,366 706,364 710,362.8 716,361.5 722.8,360.7 728,361.5 733.6,362.8 738,365 742,368.2 746,369.5 748.6,371.8 746,374.5 744,376 748,375.5 752.8,373.6 756,371 759.3,368.2 762,366 765.7,364 770,363 774.3,362.8 778,364 782.8,365 787,365 791.4,364 793,360 795.7,357.5 798,355 800,354.3 802,356 804.3,358.6 807,359.5 809,356 812.8,352 818,350.3 823.6,349 830,347 836.4,345.7 842.8,346.5 848,347.5 853,350 860,354.3 866,355 872.8,355.4 879,356 885.7,356.8 892,357.8 898.6,358.6 905,358 911.4,358 918,358.8 924.3,359.6 931,360.3 937,361 943,362.5 950,364 956,365.2 962.8,366 967,365 971.4,364.4 978,364.5 984.3,365 991,366.3 997,367.6 1003,369 1010,370.4 1015,371.5 1018.6,372.5 1016,374.5 1014.3,375.3 1011,376.5 1007.8,377.8 1005,379.5 1003.6,381 1000,382.5 997,384.3 994.5,386.5 992.8,388.6 991,392 990.7,396 994,400 989,400 987,392 986.4,384.3 982,382 978,383.5 973.6,385.4 969,387.2 965,389 960,390 956.4,390.7 952.5,391.5 950,392.8 948,395.5 947.8,398.2 949.5,400.5 952,402.5 955,403.8 958.6,404.6 961.5,406 964,407.8 965.5,410 966,412 967,416.4 968,425 965,428 962.8,427 961,431 959.6,433.6 957,433 955.3,431.4 954.5,428.5 954.3,426 952,424 950,422.8 947.5,424 946,427 948,430 951,434 954.3,440 957,444.5 958.6,448.6 958.5,454 957.5,459.3 956,464 954.3,467.8 952.8,472 951,476.4 948.5,480.5 945.7,484 942.5,487 939.3,489.3 936,490.5 932.8,491.4 930.5,492.8 928.6,494.6 926.5,497 925.3,500 926.5,503.5 928.6,506.4 930.3,509.5 931,512.8 930.3,516.5 928.6,519.3 926.5,521.3 923.5,522.5 921.5,520 920,516 918,512.5 916.3,510.5 913.5,507.5 910.4,505.8 908.5,509 908,512.8 908.5,517.5 909.3,522 912,528.5 915,534 917.5,538.5 919.8,542 918.5,543.5 916,541.5 913.5,538 911.6,535 909,530.5 907,525.7 905.5,520 904.6,515 904,509 903.4,503.5 902.3,498.5 901,494 900,490.5 898.7,487 896,484.5 892,486.5 888,488 882,489 877,491 873,494 869.5,497.5 866.5,502 864.3,506.4 862.5,511 861.5,516 860.5,520.5 858,523.5 855.5,521 853,517 851,512.8 849.3,509 847,505.5 845,502 843,497.5 841,493 838.6,488.2 836.5,485.5 834.3,484 831,482 827.8,480.7 822,480 817,479.6 811.5,478.8 806.4,478 803,478.5 800,478.6 796.5,476.5 793.6,474.3 790,471 787,467.8 784.5,465.5 782.8,465.7 784,468 786,470 788,474 790.3,477.5 792.5,480 794.6,481.8 797.5,483.5 800,484 802,483 804.3,482.8 808,483.5 811.8,485 814,488 815,491.4 813,495 810,498.5 806.4,502 801,505 795.7,507.5 790,510.5 785,512.8 780.5,514.8 776.4,516 775,513 774.3,510.7 771,505 767.8,500 764.5,493.5 761.4,487 757,478.5 752.8,470 750.5,468.5 748.6,467.8 748.6,465.7 749,461 749.6,457 750.3,453.5 750.7,450.7 747.5,450.9 744.3,450.7 740,450.3 735.7,449.6 733,449.3 730.3,448.6 729.5,445 729.3,442 728,445.5 726,448.6 724,447.3 722.8,445.4 721.5,442 720.7,439 718.5,436 716.4,433.6 714,430.5 712,428 709.5,426.5 707.8,427 709.3,430.5 711,433.6 712.8,437 714.3,440 713,443.5 711,446.4 709.8,444.5 709,442 707.5,439.5 705.7,436.8 703.5,434 701.4,431.4 699,429.5 697,428.2 694,428.5 690.7,429.3 688.5,430.3 686.4,431.4 683,433.5 680,435.7 677.5,439 675.7,442 673.5,445 671.4,447.5 668,449 665,449.6 661.5,448.8 658.6,447.5"/><polygon points="660.7,450.7 666,449.5 672,448 680,446.4 688,446.8 695,448.6 697.5,452.5 699.3,457 703,459 708,461.5 714.3,463.6 718,460.5 722,458.5 728,460.5 735,462.5 742,463.6 745.5,465.5 748.6,467.8 750.5,472 752.8,478.6 756,485 759.5,491.5 762.5,497 765.7,502 768,505.5 771.5,509 775.7,516 781,517.5 786.4,518.2 792.8,517 790,524 786.4,530 781.5,538 775.7,547 770,556 765,564.3 766.5,570.5 767,577 766.5,584 765,590 759,597 753.2,602.8 754,607.5 754.3,611.4 750.5,613.5 747.8,615.7 745,623 741.4,630.7 736.5,635.5 730.7,639.3 723,640.3 715.7,640.4 713.5,633 711.4,626.4 708,616.5 705,607 702,598.5 699.6,590 701.5,582.5 704,575 702.5,568.5 700.7,562 697,555.5 693.2,549.3 693.8,544 694.3,538.6 690,537.5 685.7,535.4 682.5,532 679.3,530 672,532.5 664.3,534.3 656.5,533.5 649.3,532 643.5,526.5 638.5,521.5 634.3,517 632.3,511.5 631,506.4 630.5,502 630.7,497.8 632.5,490.5 635,482.8 640,476.5 645,471 650,465.7 654,459.5 657.5,454.5"/><polygon points="788.6,580.4 790.5,585 790.7,590 788,598.5 784.3,607 781.5,612.5 777.8,616.8 775,615 773.6,611.4 774,602 775.7,592 780,588 785,584.5"/><polygon points="484.3,523.6 488.5,520 492.8,517 497,515.5 501.4,515 508,517 514.3,519.3 520.5,520.5 527,521.4 533.5,526.5 540,532 546.5,536.5 552.8,540.7 559,545 565.7,549.3 572,552.5 578.6,555.7 583,559 587,562 588,566.4 586,574 583.5,582 580.7,590 578.5,596.5 576.4,602.8 569,609.5 561.4,615.7 558,622 555,628.6 549.5,637.5 544.3,645.7 540,649 535.7,652 533.5,658.5 531.4,665 529,671.5 527,677.8 531,684 536.5,690 544.3,696 540,696.5 535.7,694 529,690.5 522.8,686.4 518.5,679 514.3,671.4 512,661 510,650 508.8,639 507.8,628.6 506.5,614.5 505.7,600.7 501.5,594 497,587.8 490.5,579.5 484.3,570.7 480.5,563 477.8,555.7 478.5,550 480,545 483,539.5 486.4,534.3 485.5,529"/><polygon points="476,486.5 481,485 487,486.5 492,489.5 496,493 492,493.5 487,490.5 481,488.5" stroke-width="1.2"/><polygon points="499,494 504,493.5 508.5,496 505,498 500,497"/><polygon points="933.9,641.9 934,629 935,616 938,611 942,606.7 950,602 958.5,597.3 963.5,592.5 968,588 974,585.5 979.6,583.2 986.7,579.7 992,579.5 996,580.9 994.5,585 997.5,590 1003,595 1006,587.5 1008,581 1010,577.4 1012.5,584 1014.8,590.3 1018.5,597.5 1021.9,604.3 1025,610 1027.7,616 1026.5,623 1024.2,630 1019.5,636.5 1014.8,641.9 1010,646.5 1005.5,650 999.5,651.8 993.7,652.4 989.5,650 985.5,646.6 982.5,642 979.6,637 972.5,635.3 965.6,634.8 959.5,635.5 953.8,637 948,638.8 942,640.7 937.5,642.5"/><polygon points="990,656.5 995,656 999.5,657.5 998,661 994.5,664.5 991.5,663 990,660"/><polygon points="1062.5,640.5 1064.5,642 1066,645.5 1070.5,648.5 1068,651 1064,653.5 1060.5,656.5 1058.5,655.5 1061,651.5 1063.5,648 1062.5,644.5" stroke-width="1.2"/><polygon points="1057.5,657 1059,659 1054,663 1047,667 1040,670.5 1033,673.5 1029.5,674 1030.5,671.5 1036,668.5 1043,665 1050,661" stroke-width="1.4"/><polygon points="988.6,439 986,444 983,448.5 979,452 975,455 971.5,458.5 970,461 972.5,461.5 976,459 980,456.5 984,453 987,449 989.5,444 990.5,440.5" stroke-width="1.6"/><polygon points="955.5,497 958.5,496.5 960.5,500 960,505 962,509 960,510 957.5,506.5 956,502" stroke-width="2.2"/><polygon points="963,513 966,515 968,519 971,522 972,527 969,529 966.5,526 965,521.5 962.5,517" stroke-width="2.0"/><polygon points="932.7,544.5 939.8,539.8 948,532.8 953.8,529.3 955,536.3 952.7,545.7 950.3,553.9 945.6,557.4 938.6,555 933.9,550.4"/><polygon points="899.9,532.8 903.4,534 910.4,542.2 918.7,551.6 924.5,561 922.9,563.3 917.5,558.6 910.4,549.2 903.4,539.8" stroke-width="2.6"/><polygon points="923.8,563.8 930.4,564 942,566.5 953.8,568.8 963.2,570 972.6,569.5 984,568.3 984.3,570.5 972.6,572.3 963.2,573 953.8,572 942,569.8 930.4,567.3 924,566.5" stroke-width="1.8"/><polygon points="956.2,548 963.2,544.5 970.3,543.3 968,546.9 962,549.2 964.4,555 963.2,561 961,556 959.7,552.7 957.4,561 956.2,555" stroke-width="1.6"/><polygon points="984.3,549.2 990.2,548 993.7,551.5 1000.8,552.7 1010,555.5 1017.2,559.8 1023,565.6 1029,573.8 1024.2,572.7 1018.4,569 1014.8,571.5 1009,572 1004.3,569 1000.8,566.8 998.4,561 994.9,558.6 990.2,555 986.7,552.7"/><polygon points="697,342.5 702,341 709,340.5 716,341.5 720.5,343.5 716,346 709,346.5 702,345.5"/><polygon points="746,340.5 754,339.5 764,340 772,340.5 776,342 768,343 758,342.5 750,342.5"/><polygon points="769,353.5 772,350.5 778,349 784,348.5 787.5,349.5 783,351 777.5,352 773.5,355 771.5,358.5 773,362 770.5,362.5 768.5,358"/><polygon points="815,341 821,339.5 828,341 832,343 826,344 819,343.5"/><polygon points="893,351.5 899,350 906,351.5 902,354 895,353.5"/><polygon points="983,360.5 988,360 990,361.5 985,362.5"/><polygon points="987.5,383 989.5,383 990.2,396 988.5,396"/><polygon points="1024,554.5 1029,554 1034.8,556.5 1035.5,558.5 1030,557 1025,556.5" stroke-width="1.2"/><polygon points="1056,596.5 1057.8,597 1062.3,607.5 1060.8,608.3"/><circle cx="954.3" cy="485" r="1.8"/><circle cx="929.2" cy="495.6" r="1.7"/><circle cx="863.3" cy="526.8" r="1.7"/><circle cx="976" cy="545.7" r="1.4"/><circle cx="982" cy="550.4" r="1.4"/><circle cx="1041.8" cy="563.3" r="1.0"/><circle cx="1046.5" cy="567" r="1.0"/><circle cx="1051" cy="571" r="1.0"/><circle cx="1055.9" cy="575" r="1.0"/><circle cx="693.5" cy="436.5" r="1.6"/><circle cx="693.2" cy="432.2" r="1.2"/><circle cx="706.5" cy="449" r="1.8"/><circle cx="741.5" cy="455.2" r="1.2"/><circle cx="512.5" cy="497.3" r="1.0"/><circle cx="989" cy="569.5" r="1.2"/><circle cx="994" cy="570.2" r="1.2"/></g>
<g fill="none" stroke="#ffffff" stroke-linecap="round" stroke-linejoin="round"><path d="M751.5,471 L756,479.5 L761,488 L764.5,494.5 L768,501 L771,507 L774.8,513.8" stroke-width="3.4"/><path d="M784,467 L786.5,470.5 L789.5,474.5 L793,478.5 L797,481 L800.5,481.6" stroke-width="4.2"/><path d="M483,360 L496,357.5 L508,356.8 L521,354.5 L535,352.5" stroke-width="1.5"/><path d="M519,357 L521.5,364 L526,371.5" stroke-width="1.5"/><path d="M500,352 L503,362" stroke-width="1.2"/><path d="M538,348 L548,344.5 L558,343" stroke-width="1.2"/></g><ellipse cx="541" cy="370.3" rx="6" ry="2.8" transform="rotate(22 541 370.3)" fill="#ffffff"/>
<path d="M420,413.6 H399 V590" fill="none" stroke="#e15329" stroke-width="1.9"/>
<circle cx="452.8" cy="413.6" r="34.3" fill="#e15329"/><path d="M452.8,379.3 A34.3,34.3 0 0 0 452.8,447.90000000000003 Z" fill="#c64827"/>
<circle cx="711" cy="397.6" r="24.9" fill="#e15329"/><path d="M711,372.70000000000005 A24.9,24.9 0 0 0 711,422.5 Z" fill="#c64827"/>
<circle cx="990.3" cy="417.5" r="23.2" fill="#e15329"/><path d="M990.3,394.3 A23.2,23.2 0 0 0 990.3,440.7 Z" fill="#c64827"/>
<circle cx="905" cy="449.6" r="19.6" fill="#e15329"/><path d="M905,430.0 A19.6,19.6 0 0 0 905,469.20000000000005 Z" fill="#c64827"/>
<circle cx="854.6" cy="493.6" r="9.6" fill="#e15329"/><path d="M854.6,484.0 A9.6,9.6 0 0 0 854.6,503.20000000000005 Z" fill="#c64827"/>
<circle cx="518" cy="563.6" r="9.0" fill="#e15329"/><path d="M518,554.6 A9.0,9.0 0 0 0 518,572.6 Z" fill="#c64827"/>
<text transform="translate(492.50,412.9) scale(0.4200,1)" font-size="24" fill="#15152b" font-weight="bold" letter-spacing="1.550" >NORTH</text><text transform="translate(492.68,412.9) scale(0.4200,1)" font-size="24" fill="#15152b" font-weight="bold" letter-spacing="1.550" >NORTH</text><text transform="translate(492.86,412.9) scale(0.4200,1)" font-size="24" fill="#15152b" font-weight="bold" letter-spacing="1.550" >NORTH</text>
<text transform="translate(492.30,436.2) scale(0.4200,1)" font-size="24" fill="#15152b" font-weight="bold" letter-spacing="3.096" >AMERICA</text><text transform="translate(492.48,436.2) scale(0.4200,1)" font-size="24" fill="#15152b" font-weight="bold" letter-spacing="3.096" >AMERICA</text><text transform="translate(492.66,436.2) scale(0.4200,1)" font-size="24" fill="#15152b" font-weight="bold" letter-spacing="3.096" >AMERICA</text>
<text transform="translate(747.00,407) scale(0.4200,1)" font-size="24" fill="#15152b" font-weight="bold" letter-spacing="1.462" >EUROPE</text><text transform="translate(747.18,407) scale(0.4200,1)" font-size="24" fill="#15152b" font-weight="bold" letter-spacing="1.462" >EUROPE</text><text transform="translate(747.36,407) scale(0.4200,1)" font-size="24" fill="#15152b" font-weight="bold" letter-spacing="1.462" >EUROPE</text>
<text transform="translate(1020.70,425.3) scale(0.4200,1)" font-size="24" fill="#15152b" font-weight="bold" letter-spacing="3.465" >JAPAN</text><text transform="translate(1020.88,425.3) scale(0.4200,1)" font-size="24" fill="#15152b" font-weight="bold" letter-spacing="3.465" >JAPAN</text><text transform="translate(1021.06,425.3) scale(0.4200,1)" font-size="24" fill="#15152b" font-weight="bold" letter-spacing="3.465" >JAPAN</text>
<text transform="translate(930.70,457.3) scale(0.4200,1)" font-size="24" fill="#15152b" font-weight="bold" letter-spacing="3.763" >CHINA</text><text transform="translate(930.88,457.3) scale(0.4200,1)" font-size="24" fill="#15152b" font-weight="bold" letter-spacing="3.763" >CHINA</text><text transform="translate(931.06,457.3) scale(0.4200,1)" font-size="24" fill="#15152b" font-weight="bold" letter-spacing="3.763" >CHINA</text>
<text transform="translate(872.40,499.9) scale(0.4200,1)" font-size="24" fill="#15152b" font-weight="bold" letter-spacing="3.691" >INDIA</text><text transform="translate(872.58,499.9) scale(0.4200,1)" font-size="24" fill="#15152b" font-weight="bold" letter-spacing="3.691" >INDIA</text><text transform="translate(872.76,499.9) scale(0.4200,1)" font-size="24" fill="#15152b" font-weight="bold" letter-spacing="3.691" >INDIA</text>
<text transform="translate(534.60,560.3) scale(0.4200,1)" font-size="24" fill="#15152b" font-weight="bold" letter-spacing="1.735" >LATIN</text><text transform="translate(534.78,560.3) scale(0.4200,1)" font-size="24" fill="#15152b" font-weight="bold" letter-spacing="1.735" >LATIN</text><text transform="translate(534.96,560.3) scale(0.4200,1)" font-size="24" fill="#15152b" font-weight="bold" letter-spacing="1.735" >LATIN</text>
<text transform="translate(534.60,583.9) scale(0.4200,1)" font-size="24" fill="#15152b" font-weight="bold" letter-spacing="3.056" >AMERICA</text><text transform="translate(534.78,583.9) scale(0.4200,1)" font-size="24" fill="#15152b" font-weight="bold" letter-spacing="3.056" >AMERICA</text><text transform="translate(534.96,583.9) scale(0.4200,1)" font-size="24" fill="#15152b" font-weight="bold" letter-spacing="3.056" >AMERICA</text>
<rect x="366.5" y="647.4" width="15.0" height="2.2" fill="#222b3c"/><rect x="363.3" y="599.4" width="21.4" height="48.5" fill="#2d374d"/><rect x="373.6" y="599.4" width="11.1" height="48.5" fill="#3c4c6e"/><rect x="364.90000000000003" y="601.8" width="18.2" height="1.15" fill="#b7bfd2"/><rect x="364.90000000000003" y="601.8" width="5.5" height="1.15" fill="#d8633a"/><rect x="364.90000000000003" y="607.0" width="18.2" height="1.15" fill="#b7bfd2"/><rect x="364.90000000000003" y="607.0" width="5.5" height="1.15" fill="#d8633a"/><rect x="364.90000000000003" y="612.2" width="18.2" height="1.15" fill="#b7bfd2"/><rect x="364.90000000000003" y="612.2" width="5.5" height="1.15" fill="#d8633a"/><rect x="364.90000000000003" y="617.5" width="18.2" height="1.15" fill="#b7bfd2"/><rect x="364.90000000000003" y="617.5" width="5.5" height="1.15" fill="#d8633a"/><rect x="364.90000000000003" y="622.7" width="18.2" height="1.15" fill="#b7bfd2"/><rect x="364.90000000000003" y="622.7" width="5.5" height="1.15" fill="#d8633a"/><rect x="364.90000000000003" y="627.9" width="18.2" height="1.15" fill="#b7bfd2"/><rect x="364.90000000000003" y="627.9" width="5.5" height="1.15" fill="#d8633a"/><rect x="364.90000000000003" y="633.1" width="18.2" height="1.15" fill="#b7bfd2"/><rect x="364.90000000000003" y="633.1" width="5.5" height="1.15" fill="#d8633a"/><rect x="364.90000000000003" y="638.3" width="18.2" height="1.15" fill="#b7bfd2"/><rect x="364.90000000000003" y="638.3" width="5.5" height="1.15" fill="#d8633a"/><rect x="365.7" y="641.3" width="16.599999999999998" height="4.1" rx="1.6" fill="#86a7df"/>
<rect x="417.3" y="647.4" width="14.8" height="2.2" fill="#222b3c"/><rect x="414.1" y="599.4" width="21.1" height="48.5" fill="#2d374d"/><rect x="424.2" y="599.4" width="11.0" height="48.5" fill="#3c4c6e"/><rect x="415.70000000000005" y="601.8" width="17.900000000000002" height="1.15" fill="#b7bfd2"/><rect x="415.70000000000005" y="601.8" width="5.4" height="1.15" fill="#d8633a"/><rect x="415.70000000000005" y="607.0" width="17.900000000000002" height="1.15" fill="#b7bfd2"/><rect x="415.70000000000005" y="607.0" width="5.4" height="1.15" fill="#d8633a"/><rect x="415.70000000000005" y="612.2" width="17.900000000000002" height="1.15" fill="#b7bfd2"/><rect x="415.70000000000005" y="612.2" width="5.4" height="1.15" fill="#d8633a"/><rect x="415.70000000000005" y="617.5" width="17.900000000000002" height="1.15" fill="#b7bfd2"/><rect x="415.70000000000005" y="617.5" width="5.4" height="1.15" fill="#d8633a"/><rect x="415.70000000000005" y="622.7" width="17.900000000000002" height="1.15" fill="#b7bfd2"/><rect x="415.70000000000005" y="622.7" width="5.4" height="1.15" fill="#d8633a"/><rect x="415.70000000000005" y="627.9" width="17.900000000000002" height="1.15" fill="#b7bfd2"/><rect x="415.70000000000005" y="627.9" width="5.4" height="1.15" fill="#d8633a"/><rect x="415.70000000000005" y="633.1" width="17.900000000000002" height="1.15" fill="#b7bfd2"/><rect x="415.70000000000005" y="633.1" width="5.4" height="1.15" fill="#d8633a"/><rect x="415.70000000000005" y="638.3" width="17.900000000000002" height="1.15" fill="#b7bfd2"/><rect x="415.70000000000005" y="638.3" width="5.4" height="1.15" fill="#d8633a"/><rect x="416.5" y="641.3" width="16.3" height="4.1" rx="1.6" fill="#86a7df"/>
<rect x="390.1" y="647.4" width="18.0" height="2.2" fill="#222b3c"/><rect x="386.2" y="589.5" width="25.7" height="58.4" fill="#2d374d"/><rect x="398.5" y="589.5" width="13.4" height="58.4" fill="#3c4c6e"/><rect x="387.8" y="592.7" width="22.5" height="1.15" fill="#b7bfd2"/><rect x="387.8" y="592.7" width="6.8" height="1.15" fill="#d8633a"/><rect x="387.8" y="598.9" width="22.5" height="1.15" fill="#b7bfd2"/><rect x="387.8" y="598.9" width="6.8" height="1.15" fill="#d8633a"/><rect x="387.8" y="605.1" width="22.5" height="1.15" fill="#b7bfd2"/><rect x="387.8" y="605.1" width="6.8" height="1.15" fill="#d8633a"/><rect x="387.8" y="611.3" width="22.5" height="1.15" fill="#b7bfd2"/><rect x="387.8" y="611.3" width="6.8" height="1.15" fill="#d8633a"/><rect x="387.8" y="617.5" width="22.5" height="1.15" fill="#b7bfd2"/><rect x="387.8" y="617.5" width="6.8" height="1.15" fill="#d8633a"/><rect x="387.8" y="623.7" width="22.5" height="1.15" fill="#b7bfd2"/><rect x="387.8" y="623.7" width="6.8" height="1.15" fill="#d8633a"/><rect x="387.8" y="629.9" width="22.5" height="1.15" fill="#b7bfd2"/><rect x="387.8" y="629.9" width="6.8" height="1.15" fill="#d8633a"/><rect x="387.8" y="636.1" width="22.5" height="1.15" fill="#b7bfd2"/><rect x="387.8" y="636.1" width="6.8" height="1.15" fill="#d8633a"/><rect x="388.59999999999997" y="641.3" width="20.9" height="4.1" rx="1.6" fill="#86a7df"/>
<text x="362" y="667.6" font-size="13.8" fill="#58595b" font-weight="normal" text-anchor="start" textLength="77.6" lengthAdjust="spacingAndGlyphs" >Servers 30%</text>
<defs><g id="pp"><ellipse cx="0" cy="2.55" rx="1.8" ry="2.55"/><path d="M-0.9,4.6 L0.9,4.6 L1.0,6 C3,6.2 4.6,6.6 4.9,8 L5.3,13 L5.15,19 L4.5,20.2 L3.9,19 L4.0,13 L3.7,9.4 L3.05,9.6 L2.65,16 L3.1,20 L2.9,27 L2.7,32.3 L4.3,33.5 L1.9,33.7 L1.3,32.8 L0.6,20.3 L0,19 L-0.6,20.3 L-1.3,32.8 L-1.9,33.7 L-4.3,33.5 L-2.7,32.3 L-2.9,27 L-3.1,20 L-2.65,16 L-3.05,9.6 L-3.7,9.4 L-4.0,13 L-3.9,19 L-4.5,20.2 L-5.15,19 L-5.3,13 L-4.9,8 C-4.6,6.6 -3,6.2 -1.0,6 Z"/></g><linearGradient id="scr" x1="0" y1="0" x2="1" y2="1"><stop offset="0" stop-color="#6f93dc"/><stop offset="0.32" stop-color="#86a8e3"/><stop offset="0.33" stop-color="#7fa2e0"/><stop offset="0.68" stop-color="#85a7e2"/><stop offset="0.69" stop-color="#7b9fdf"/><stop offset="1" stop-color="#6b90d8"/></linearGradient></defs>
<text transform="translate(1173.60,94.2) scale(0.3700,1)" font-size="42.3" fill="#e15329" font-weight="bold" letter-spacing="1.368" >8 zettabytes</text><text transform="translate(1173.72,94.2) scale(0.3700,1)" font-size="42.3" fill="#e15329" font-weight="bold" letter-spacing="1.368" >8 zettabytes</text><text transform="translate(1173.84,94.2) scale(0.3700,1)" font-size="42.3" fill="#e15329" font-weight="bold" letter-spacing="1.368" >8 zettabytes</text>
<text transform="translate(1274.00,94.2) scale(0.3700,1)" font-size="42.3" fill="#58595b" font-weight="bold" letter-spacing="0.519" >every day</text><text transform="translate(1274.12,94.2) scale(0.3700,1)" font-size="42.3" fill="#58595b" font-weight="bold" letter-spacing="0.519" >every day</text><text transform="translate(1274.24,94.2) scale(0.3700,1)" font-size="42.3" fill="#58595b" font-weight="bold" letter-spacing="0.519" >every day</text>
<path d="M1121.2,118 C1121.2,113.5 1124,111.4 1129,111.4 H1250 C1255,111.4 1258,108.5 1259.6,104.2 C1261.2,108.5 1264,111.4 1269,111.4 H1390.8 C1395.8,111.4 1398.6,113.5 1398.6,118" fill="none" stroke="#86a7df" stroke-width="1.6"/>
<path d="M1121.2,274.6 C1121.2,279.5 1124,281.8 1129,281.8 H1250 C1255,281.8 1258,284.8 1259.6,289.1 C1261.2,284.8 1264,281.8 1269,281.8 H1390.8 C1395.8,281.8 1398.6,279.5 1398.6,274.6" fill="none" stroke="#86a7df" stroke-width="1.6"/>
<g fill="#86a7df"><use href="#pp" x="1130.6" y="122.3"/><use href="#pp" x="1147.8" y="122.3"/><use href="#pp" x="1165.0" y="122.3"/><use href="#pp" x="1182.2" y="122.3"/><use href="#pp" x="1199.4" y="122.3"/><use href="#pp" x="1216.6" y="122.3"/><use href="#pp" x="1233.8" y="122.3"/><use href="#pp" x="1251.0" y="122.3"/><use href="#pp" x="1268.2" y="122.3"/><use href="#pp" x="1285.4" y="122.3"/><use href="#pp" x="1302.6" y="122.3"/><use href="#pp" x="1319.8" y="122.3"/><use href="#pp" x="1337.0" y="122.3"/><use href="#pp" x="1354.2" y="122.3"/><use href="#pp" x="1371.4" y="122.3"/><use href="#pp" x="1388.6" y="122.3"/><use href="#pp" x="1130.6" y="160.3"/><use href="#pp" x="1147.8" y="160.3"/><use href="#pp" x="1165.0" y="160.3"/><use href="#pp" x="1182.2" y="160.3"/><use href="#pp" x="1199.4" y="160.3"/><use href="#pp" x="1216.6" y="160.3"/><use href="#pp" x="1233.8" y="160.3"/><use href="#pp" x="1251.0" y="160.3"/><use href="#pp" x="1268.2" y="160.3"/><use href="#pp" x="1285.4" y="160.3"/><use href="#pp" x="1302.6" y="160.3"/><use href="#pp" x="1319.8" y="160.3"/><use href="#pp" x="1337.0" y="160.3"/><use href="#pp" x="1354.2" y="160.3"/><use href="#pp" x="1371.4" y="160.3"/><use href="#pp" x="1388.6" y="160.3"/><use href="#pp" x="1130.6" y="198.3"/><use href="#pp" x="1147.8" y="198.3"/><use href="#pp" x="1165.0" y="198.3"/><use href="#pp" x="1182.2" y="198.3"/><use href="#pp" x="1199.4" y="198.3"/><use href="#pp" x="1216.6" y="198.3"/><use href="#pp" x="1233.8" y="198.3"/><use href="#pp" x="1251.0" y="198.3"/><use href="#pp" x="1268.2" y="198.3"/><use href="#pp" x="1285.4" y="198.3"/><use href="#pp" x="1302.6" y="198.3"/><use href="#pp" x="1319.8" y="198.3"/><use href="#pp" x="1337.0" y="198.3"/><use href="#pp" x="1354.2" y="198.3"/><use href="#pp" x="1371.4" y="198.3"/><use href="#pp" x="1388.6" y="198.3"/><use href="#pp" x="1130.6" y="236.5"/><use href="#pp" x="1147.8" y="236.5"/><use href="#pp" x="1165.0" y="236.5"/><use href="#pp" x="1182.2" y="236.5"/><use href="#pp" x="1199.4" y="236.5"/><use href="#pp" x="1216.6" y="236.5"/><use href="#pp" x="1233.8" y="236.5"/><use href="#pp" x="1251.0" y="236.5"/><use href="#pp" x="1268.2" y="236.5"/><use href="#pp" x="1285.4" y="236.5"/><use href="#pp" x="1302.6" y="236.5"/><use href="#pp" x="1319.8" y="236.5"/><use href="#pp" x="1337.0" y="236.5"/><use href="#pp" x="1354.2" y="236.5"/><use href="#pp" x="1371.4" y="236.5"/><use href="#pp" x="1388.6" y="236.5"/></g>
<text transform="translate(1200.40,330.9) scale(0.3300,1)" font-size="47.3" fill="#58595b" font-weight="bold" letter-spacing="1.472" >3 billion people</text><text transform="translate(1200.55,330.9) scale(0.3300,1)" font-size="47.3" fill="#58595b" font-weight="bold" letter-spacing="1.472" >3 billion people</text><text transform="translate(1200.70,330.9) scale(0.3300,1)" font-size="47.3" fill="#58595b" font-weight="bold" letter-spacing="1.472" >3 billion people</text>
<text x="1127.9" y="365.7" font-size="14.6" fill="#e15329" font-weight="bold" text-anchor="start" textLength="31.9" lengthAdjust="spacingAndGlyphs" >90%</text>
<text x="1164.3" y="365.7" font-size="14.6" fill="#58595b" font-weight="normal" text-anchor="start" textLength="13.8" lengthAdjust="spacingAndGlyphs" >of</text>
<text x="1185.9" y="365.7" font-size="14.6" fill="#58595b" font-weight="normal" text-anchor="start" textLength="202" lengthAdjust="spacingAndGlyphs" >the world’s data was created</text>
<text x="1127.9" y="382.9" font-size="14.6" fill="#58595b" font-weight="normal" text-anchor="start" textLength="145.1" lengthAdjust="spacingAndGlyphs" >in the last two years.</text>
<g fill="#5a88c2"><circle cx="1104.5" cy="416.9" r="0.72"/><circle cx="1108.5" cy="416.9" r="0.72"/><circle cx="1112.5" cy="416.9" r="0.72"/><circle cx="1116.5" cy="416.9" r="0.72"/><circle cx="1120.5" cy="416.9" r="0.72"/><circle cx="1124.5" cy="416.9" r="0.72"/><circle cx="1128.5" cy="416.9" r="0.72"/><circle cx="1132.5" cy="416.9" r="0.72"/><circle cx="1136.5" cy="416.9" r="0.72"/><circle cx="1140.5" cy="416.9" r="0.72"/><circle cx="1144.5" cy="416.9" r="0.72"/><circle cx="1148.5" cy="416.9" r="0.72"/><circle cx="1152.5" cy="416.9" r="0.72"/><circle cx="1156.5" cy="416.9" r="0.72"/><circle cx="1160.5" cy="416.9" r="0.72"/><circle cx="1164.5" cy="416.9" r="0.72"/><circle cx="1168.5" cy="416.9" r="0.72"/><circle cx="1172.5" cy="416.9" r="0.72"/><circle cx="1176.5" cy="416.9" r="0.72"/><circle cx="1180.5" cy="416.9" r="0.72"/><circle cx="1184.5" cy="416.9" r="0.72"/><circle cx="1188.5" cy="416.9" r="0.72"/><circle cx="1192.5" cy="416.9" r="0.72"/><circle cx="1196.5" cy="416.9" r="0.72"/><circle cx="1200.5" cy="416.9" r="0.72"/><circle cx="1204.5" cy="416.9" r="0.72"/><circle cx="1208.5" cy="416.9" r="0.72"/><circle cx="1212.5" cy="416.9" r="0.72"/><circle cx="1216.5" cy="416.9" r="0.72"/><circle cx="1220.5" cy="416.9" r="0.72"/><circle cx="1224.5" cy="416.9" r="0.72"/><circle cx="1228.5" cy="416.9" r="0.72"/><circle cx="1232.5" cy="416.9" r="0.72"/><circle cx="1236.5" cy="416.9" r="0.72"/><circle cx="1240.5" cy="416.9" r="0.72"/><circle cx="1244.5" cy="416.9" r="0.72"/><circle cx="1248.5" cy="416.9" r="0.72"/><circle cx="1252.5" cy="416.9" r="0.72"/><circle cx="1256.5" cy="416.9" r="0.72"/><circle cx="1260.5" cy="416.9" r="0.72"/><circle cx="1264.5" cy="416.9" r="0.72"/><circle cx="1268.5" cy="416.9" r="0.72"/><circle cx="1272.5" cy="416.9" r="0.72"/><circle cx="1276.5" cy="416.9" r="0.72"/><circle cx="1280.5" cy="416.9" r="0.72"/><circle cx="1284.5" cy="416.9" r="0.72"/><circle cx="1288.5" cy="416.9" r="0.72"/><circle cx="1292.5" cy="416.9" r="0.72"/><circle cx="1296.5" cy="416.9" r="0.72"/><circle cx="1300.5" cy="416.9" r="0.72"/><circle cx="1304.5" cy="416.9" r="0.72"/><circle cx="1308.5" cy="416.9" r="0.72"/><circle cx="1312.5" cy="416.9" r="0.72"/><circle cx="1316.5" cy="416.9" r="0.72"/><circle cx="1320.5" cy="416.9" r="0.72"/><circle cx="1324.5" cy="416.9" r="0.72"/><circle cx="1328.5" cy="416.9" r="0.72"/><circle cx="1332.5" cy="416.9" r="0.72"/><circle cx="1336.5" cy="416.9" r="0.72"/><circle cx="1340.5" cy="416.9" r="0.72"/><circle cx="1344.5" cy="416.9" r="0.72"/><circle cx="1348.5" cy="416.9" r="0.72"/><circle cx="1352.5" cy="416.9" r="0.72"/><circle cx="1356.5" cy="416.9" r="0.72"/><circle cx="1360.5" cy="416.9" r="0.72"/><circle cx="1364.5" cy="416.9" r="0.72"/><circle cx="1368.5" cy="416.9" r="0.72"/><circle cx="1372.5" cy="416.9" r="0.72"/><circle cx="1376.5" cy="416.9" r="0.72"/><circle cx="1380.5" cy="416.9" r="0.72"/><circle cx="1384.5" cy="416.9" r="0.72"/><circle cx="1388.5" cy="416.9" r="0.72"/><circle cx="1392.5" cy="416.9" r="0.72"/><circle cx="1396.5" cy="416.9" r="0.72"/><circle cx="1400.5" cy="416.9" r="0.72"/><circle cx="1404.5" cy="416.9" r="0.72"/><circle cx="1408.5" cy="416.9" r="0.72"/><circle cx="1412.5" cy="416.9" r="0.72"/></g>
<g fill="#5a88c2"><circle cx="1104.5" cy="466.4" r="0.72"/><circle cx="1108.5" cy="466.4" r="0.72"/><circle cx="1112.5" cy="466.4" r="0.72"/><circle cx="1116.5" cy="466.4" r="0.72"/><circle cx="1120.5" cy="466.4" r="0.72"/><circle cx="1124.5" cy="466.4" r="0.72"/><circle cx="1128.5" cy="466.4" r="0.72"/><circle cx="1132.5" cy="466.4" r="0.72"/><circle cx="1136.5" cy="466.4" r="0.72"/><circle cx="1140.5" cy="466.4" r="0.72"/><circle cx="1144.5" cy="466.4" r="0.72"/><circle cx="1148.5" cy="466.4" r="0.72"/><circle cx="1152.5" cy="466.4" r="0.72"/><circle cx="1156.5" cy="466.4" r="0.72"/><circle cx="1160.5" cy="466.4" r="0.72"/><circle cx="1164.5" cy="466.4" r="0.72"/><circle cx="1168.5" cy="466.4" r="0.72"/><circle cx="1172.5" cy="466.4" r="0.72"/><circle cx="1176.5" cy="466.4" r="0.72"/><circle cx="1180.5" cy="466.4" r="0.72"/><circle cx="1184.5" cy="466.4" r="0.72"/><circle cx="1188.5" cy="466.4" r="0.72"/><circle cx="1192.5" cy="466.4" r="0.72"/><circle cx="1196.5" cy="466.4" r="0.72"/><circle cx="1200.5" cy="466.4" r="0.72"/><circle cx="1204.5" cy="466.4" r="0.72"/><circle cx="1208.5" cy="466.4" r="0.72"/><circle cx="1212.5" cy="466.4" r="0.72"/><circle cx="1216.5" cy="466.4" r="0.72"/><circle cx="1220.5" cy="466.4" r="0.72"/><circle cx="1224.5" cy="466.4" r="0.72"/><circle cx="1228.5" cy="466.4" r="0.72"/><circle cx="1232.5" cy="466.4" r="0.72"/><circle cx="1236.5" cy="466.4" r="0.72"/><circle cx="1240.5" cy="466.4" r="0.72"/><circle cx="1244.5" cy="466.4" r="0.72"/><circle cx="1248.5" cy="466.4" r="0.72"/><circle cx="1252.5" cy="466.4" r="0.72"/><circle cx="1256.5" cy="466.4" r="0.72"/><circle cx="1260.5" cy="466.4" r="0.72"/><circle cx="1264.5" cy="466.4" r="0.72"/><circle cx="1268.5" cy="466.4" r="0.72"/><circle cx="1272.5" cy="466.4" r="0.72"/><circle cx="1276.5" cy="466.4" r="0.72"/><circle cx="1280.5" cy="466.4" r="0.72"/><circle cx="1284.5" cy="466.4" r="0.72"/><circle cx="1288.5" cy="466.4" r="0.72"/><circle cx="1292.5" cy="466.4" r="0.72"/><circle cx="1296.5" cy="466.4" r="0.72"/><circle cx="1300.5" cy="466.4" r="0.72"/><circle cx="1304.5" cy="466.4" r="0.72"/><circle cx="1308.5" cy="466.4" r="0.72"/><circle cx="1312.5" cy="466.4" r="0.72"/><circle cx="1316.5" cy="466.4" r="0.72"/><circle cx="1320.5" cy="466.4" r="0.72"/><circle cx="1324.5" cy="466.4" r="0.72"/><circle cx="1328.5" cy="466.4" r="0.72"/><circle cx="1332.5" cy="466.4" r="0.72"/><circle cx="1336.5" cy="466.4" r="0.72"/><circle cx="1340.5" cy="466.4" r="0.72"/><circle cx="1344.5" cy="466.4" r="0.72"/><circle cx="1348.5" cy="466.4" r="0.72"/><circle cx="1352.5" cy="466.4" r="0.72"/><circle cx="1356.5" cy="466.4" r="0.72"/><circle cx="1360.5" cy="466.4" r="0.72"/><circle cx="1364.5" cy="466.4" r="0.72"/><circle cx="1368.5" cy="466.4" r="0.72"/><circle cx="1372.5" cy="466.4" r="0.72"/><circle cx="1376.5" cy="466.4" r="0.72"/><circle cx="1380.5" cy="466.4" r="0.72"/><circle cx="1384.5" cy="466.4" r="0.72"/><circle cx="1388.5" cy="466.4" r="0.72"/><circle cx="1392.5" cy="466.4" r="0.72"/><circle cx="1396.5" cy="466.4" r="0.72"/><circle cx="1400.5" cy="466.4" r="0.72"/><circle cx="1404.5" cy="466.4" r="0.72"/><circle cx="1408.5" cy="466.4" r="0.72"/><circle cx="1412.5" cy="466.4" r="0.72"/></g>
<g fill="#5a88c2"><circle cx="1104.5" cy="513.7" r="0.72"/><circle cx="1108.5" cy="513.7" r="0.72"/><circle cx="1112.5" cy="513.7" r="0.72"/><circle cx="1116.5" cy="513.7" r="0.72"/><circle cx="1120.5" cy="513.7" r="0.72"/><circle cx="1124.5" cy="513.7" r="0.72"/><circle cx="1128.5" cy="513.7" r="0.72"/><circle cx="1132.5" cy="513.7" r="0.72"/><circle cx="1136.5" cy="513.7" r="0.72"/><circle cx="1140.5" cy="513.7" r="0.72"/><circle cx="1144.5" cy="513.7" r="0.72"/><circle cx="1148.5" cy="513.7" r="0.72"/><circle cx="1152.5" cy="513.7" r="0.72"/><circle cx="1156.5" cy="513.7" r="0.72"/><circle cx="1160.5" cy="513.7" r="0.72"/><circle cx="1164.5" cy="513.7" r="0.72"/><circle cx="1168.5" cy="513.7" r="0.72"/><circle cx="1172.5" cy="513.7" r="0.72"/><circle cx="1176.5" cy="513.7" r="0.72"/><circle cx="1180.5" cy="513.7" r="0.72"/><circle cx="1184.5" cy="513.7" r="0.72"/><circle cx="1188.5" cy="513.7" r="0.72"/><circle cx="1192.5" cy="513.7" r="0.72"/><circle cx="1196.5" cy="513.7" r="0.72"/><circle cx="1200.5" cy="513.7" r="0.72"/><circle cx="1204.5" cy="513.7" r="0.72"/><circle cx="1208.5" cy="513.7" r="0.72"/><circle cx="1212.5" cy="513.7" r="0.72"/><circle cx="1216.5" cy="513.7" r="0.72"/><circle cx="1220.5" cy="513.7" r="0.72"/><circle cx="1224.5" cy="513.7" r="0.72"/><circle cx="1228.5" cy="513.7" r="0.72"/><circle cx="1232.5" cy="513.7" r="0.72"/><circle cx="1236.5" cy="513.7" r="0.72"/><circle cx="1240.5" cy="513.7" r="0.72"/><circle cx="1244.5" cy="513.7" r="0.72"/><circle cx="1248.5" cy="513.7" r="0.72"/><circle cx="1252.5" cy="513.7" r="0.72"/><circle cx="1256.5" cy="513.7" r="0.72"/><circle cx="1260.5" cy="513.7" r="0.72"/><circle cx="1264.5" cy="513.7" r="0.72"/><circle cx="1268.5" cy="513.7" r="0.72"/><circle cx="1272.5" cy="513.7" r="0.72"/><circle cx="1276.5" cy="513.7" r="0.72"/><circle cx="1280.5" cy="513.7" r="0.72"/><circle cx="1284.5" cy="513.7" r="0.72"/><circle cx="1288.5" cy="513.7" r="0.72"/><circle cx="1292.5" cy="513.7" r="0.72"/><circle cx="1296.5" cy="513.7" r="0.72"/><circle cx="1300.5" cy="513.7" r="0.72"/><circle cx="1304.5" cy="513.7" r="0.72"/><circle cx="1308.5" cy="513.7" r="0.72"/><circle cx="1312.5" cy="513.7" r="0.72"/><circle cx="1316.5" cy="513.7" r="0.72"/><circle cx="1320.5" cy="513.7" r="0.72"/><circle cx="1324.5" cy="513.7" r="0.72"/><circle cx="1328.5" cy="513.7" r="0.72"/><circle cx="1332.5" cy="513.7" r="0.72"/><circle cx="1336.5" cy="513.7" r="0.72"/><circle cx="1340.5" cy="513.7" r="0.72"/><circle cx="1344.5" cy="513.7" r="0.72"/><circle cx="1348.5" cy="513.7" r="0.72"/><circle cx="1352.5" cy="513.7" r="0.72"/><circle cx="1356.5" cy="513.7" r="0.72"/><circle cx="1360.5" cy="513.7" r="0.72"/><circle cx="1364.5" cy="513.7" r="0.72"/><circle cx="1368.5" cy="513.7" r="0.72"/><circle cx="1372.5" cy="513.7" r="0.72"/><circle cx="1376.5" cy="513.7" r="0.72"/><circle cx="1380.5" cy="513.7" r="0.72"/><circle cx="1384.5" cy="513.7" r="0.72"/><circle cx="1388.5" cy="513.7" r="0.72"/><circle cx="1392.5" cy="513.7" r="0.72"/><circle cx="1396.5" cy="513.7" r="0.72"/><circle cx="1400.5" cy="513.7" r="0.72"/><circle cx="1404.5" cy="513.7" r="0.72"/><circle cx="1408.5" cy="513.7" r="0.72"/><circle cx="1412.5" cy="513.7" r="0.72"/></g>
<g fill="#5a88c2"><circle cx="1104.5" cy="533.8" r="0.72"/><circle cx="1108.5" cy="533.8" r="0.72"/><circle cx="1112.5" cy="533.8" r="0.72"/><circle cx="1116.5" cy="533.8" r="0.72"/><circle cx="1120.5" cy="533.8" r="0.72"/><circle cx="1124.5" cy="533.8" r="0.72"/><circle cx="1128.5" cy="533.8" r="0.72"/><circle cx="1132.5" cy="533.8" r="0.72"/><circle cx="1136.5" cy="533.8" r="0.72"/><circle cx="1140.5" cy="533.8" r="0.72"/><circle cx="1144.5" cy="533.8" r="0.72"/><circle cx="1148.5" cy="533.8" r="0.72"/><circle cx="1152.5" cy="533.8" r="0.72"/><circle cx="1156.5" cy="533.8" r="0.72"/><circle cx="1160.5" cy="533.8" r="0.72"/><circle cx="1164.5" cy="533.8" r="0.72"/><circle cx="1168.5" cy="533.8" r="0.72"/><circle cx="1172.5" cy="533.8" r="0.72"/><circle cx="1176.5" cy="533.8" r="0.72"/><circle cx="1180.5" cy="533.8" r="0.72"/><circle cx="1184.5" cy="533.8" r="0.72"/><circle cx="1188.5" cy="533.8" r="0.72"/><circle cx="1192.5" cy="533.8" r="0.72"/><circle cx="1196.5" cy="533.8" r="0.72"/><circle cx="1200.5" cy="533.8" r="0.72"/><circle cx="1204.5" cy="533.8" r="0.72"/><circle cx="1208.5" cy="533.8" r="0.72"/><circle cx="1212.5" cy="533.8" r="0.72"/><circle cx="1216.5" cy="533.8" r="0.72"/><circle cx="1220.5" cy="533.8" r="0.72"/><circle cx="1224.5" cy="533.8" r="0.72"/><circle cx="1228.5" cy="533.8" r="0.72"/><circle cx="1232.5" cy="533.8" r="0.72"/><circle cx="1236.5" cy="533.8" r="0.72"/><circle cx="1240.5" cy="533.8" r="0.72"/><circle cx="1244.5" cy="533.8" r="0.72"/><circle cx="1248.5" cy="533.8" r="0.72"/><circle cx="1252.5" cy="533.8" r="0.72"/><circle cx="1256.5" cy="533.8" r="0.72"/><circle cx="1260.5" cy="533.8" r="0.72"/><circle cx="1264.5" cy="533.8" r="0.72"/><circle cx="1268.5" cy="533.8" r="0.72"/><circle cx="1272.5" cy="533.8" r="0.72"/><circle cx="1276.5" cy="533.8" r="0.72"/><circle cx="1280.5" cy="533.8" r="0.72"/><circle cx="1284.5" cy="533.8" r="0.72"/><circle cx="1288.5" cy="533.8" r="0.72"/><circle cx="1292.5" cy="533.8" r="0.72"/><circle cx="1296.5" cy="533.8" r="0.72"/><circle cx="1300.5" cy="533.8" r="0.72"/><circle cx="1304.5" cy="533.8" r="0.72"/><circle cx="1308.5" cy="533.8" r="0.72"/><circle cx="1312.5" cy="533.8" r="0.72"/><circle cx="1316.5" cy="533.8" r="0.72"/><circle cx="1320.5" cy="533.8" r="0.72"/><circle cx="1324.5" cy="533.8" r="0.72"/><circle cx="1328.5" cy="533.8" r="0.72"/><circle cx="1332.5" cy="533.8" r="0.72"/><circle cx="1336.5" cy="533.8" r="0.72"/><circle cx="1340.5" cy="533.8" r="0.72"/><circle cx="1344.5" cy="533.8" r="0.72"/><circle cx="1348.5" cy="533.8" r="0.72"/><circle cx="1352.5" cy="533.8" r="0.72"/><circle cx="1356.5" cy="533.8" r="0.72"/><circle cx="1360.5" cy="533.8" r="0.72"/><circle cx="1364.5" cy="533.8" r="0.72"/><circle cx="1368.5" cy="533.8" r="0.72"/><circle cx="1372.5" cy="533.8" r="0.72"/><circle cx="1376.5" cy="533.8" r="0.72"/><circle cx="1380.5" cy="533.8" r="0.72"/><circle cx="1384.5" cy="533.8" r="0.72"/><circle cx="1388.5" cy="533.8" r="0.72"/><circle cx="1392.5" cy="533.8" r="0.72"/><circle cx="1396.5" cy="533.8" r="0.72"/><circle cx="1400.5" cy="533.8" r="0.72"/><circle cx="1404.5" cy="533.8" r="0.72"/><circle cx="1408.5" cy="533.8" r="0.72"/><circle cx="1412.5" cy="533.8" r="0.72"/></g>
<path d="M1180.3,591 V567.5 A8,8 0 0 1 1188.3,559.5 H1280.6 A8,8 0 0 1 1288.6,567.5 V591" fill="none" stroke="#475976" stroke-width="7.8"/>
<rect x="1230.5" y="528" width="7.9" height="25" fill="#475976"/>
<rect x="1215.6" y="551.9" width="37.9" height="14.9" fill="#475976"/><rect x="1215.6" y="551.9" width="19" height="14.9" fill="#3e4d69"/>
<path d="M1177.7,414.6 V526.7 A56.89999999999998,7.25 0 0 0 1291.5,526.7 V414.6 Z" fill="#3e4d69"/><path d="M1234.6,414.6 V533.95 A56.89999999999998,7.25 0 0 0 1291.5,526.7 V414.6 Z" fill="#475976"/><path d="M1177.7,464.00247 A56.89999999999998,7.25 0 0 0 1291.5,464.00247 V468.80247 A56.89999999999998,7.25 0 0 1 1177.7,468.80247 Z" fill="#2a3548"/><path d="M1177.7,512.0149 A56.89999999999998,7.25 0 0 0 1291.5,512.0149 V516.8149 A56.89999999999998,7.25 0 0 1 1177.7,516.8149 Z" fill="#2a3548"/><ellipse cx="1234.6" cy="414.6" rx="56.89999999999998" ry="7.25" fill="#b3aaa4"/><path d="M1234.6,407.35 A56.89999999999998,7.25 0 0 1 1234.6,421.85 Z" fill="#c3bbb5"/>
<text x="1314.7" y="447.9" font-size="18.1" fill="#e15329" font-weight="normal" text-anchor="start" textLength="38.6" lengthAdjust="spacingAndGlyphs" >2015</text>
<text x="1314.7" y="495.9" font-size="18.1" fill="#e15329" font-weight="normal" text-anchor="start" textLength="38.6" lengthAdjust="spacingAndGlyphs" >2014</text>
<text x="1314.7" y="530" font-size="18.1" fill="#e15329" font-weight="normal" text-anchor="start" textLength="38.6" lengthAdjust="spacingAndGlyphs" >2012</text>
<rect x="1135.3" y="589.1" width="55.1" height="94.4" rx="4.5" fill="#3b4762"/><rect x="1135.3" y="589.1" width="55.1" height="9" rx="4.5" fill="#2f3a52"/><rect x="1139" y="599.2" width="47.6" height="74.7" fill="url(#scr)"/><rect x="1154.5" y="592.6" width="17" height="3.4" rx="1.7" fill="#4e5b78" stroke="#8e97aa" stroke-width="0.7"/><circle cx="1163" cy="678.5" r="2.7" fill="#9299a8"/>
<text x="1142.3" y="645" font-size="25.9" fill="#ffffff" font-weight="bold" text-anchor="start" textLength="40.4" lengthAdjust="spacingAndGlyphs" >48%</text>
<text x="1143.3" y="645" font-size="25.9" fill="#ffffff" font-weight="bold" text-anchor="start" textLength="40.4" lengthAdjust="spacingAndGlyphs" >48%</text>
<rect x="1221" y="589.8" width="140.8" height="81.4" fill="#475976"/><rect x="1221" y="589.8" width="140.8" height="4.5" fill="#3e4d69"/><rect x="1229.9" y="598.7" width="124.1" height="65.2" fill="url(#scr)"/><polygon points="1221,671 1361.8,671 1377.4,677.5 1205.6,677.5" fill="#2a3548"/><rect x="1205.6" y="677.3" width="171.8" height="5.6" fill="#475976"/>
<text x="1273.1" y="640.5" font-size="25.9" fill="#ffffff" font-weight="bold" text-anchor="start" textLength="41.1" lengthAdjust="spacingAndGlyphs" >54%</text>
<text x="1274.1" y="640.5" font-size="25.9" fill="#ffffff" font-weight="bold" text-anchor="start" textLength="41.1" lengthAdjust="spacingAndGlyphs" >54%</text>
<text transform="translate(1192.00,802.3) scale(0.3450,1)" font-size="48.3" fill="#e15329" font-weight="bold" letter-spacing="0.483" >7.9 zettabytes</text><text transform="translate(1192.12,802.3) scale(0.3450,1)" font-size="48.3" fill="#e15329" font-weight="bold" letter-spacing="0.483" >7.9 zettabytes</text><text transform="translate(1192.24,802.3) scale(0.3450,1)" font-size="48.3" fill="#e15329" font-weight="bold" letter-spacing="0.483" >7.9 zettabytes</text>
<path d="M1102.5,814.3 H1416 M1102.5,846.3 H1416 M1102.5,878 H1416 M1102.5,910 H1416 M1102.5,942 H1416 M1102.5,973.7 H1416" fill="none" stroke="#b4c7ea" stroke-width="1.1"/>
<text x="1115.5" y="838" font-size="19.3" fill="#55565a" font-weight="normal" text-anchor="start" textLength="165.3" lengthAdjust="spacingAndGlyphs" ><tspan fill="#55565a">1</tspan><tspan fill="#b3b3b3">.000.000.000.000</tspan></text>
<text x="1292.4" y="838" font-size="19.3" fill="#55565a" font-weight="normal" text-anchor="start" textLength="86.7" lengthAdjust="spacingAndGlyphs" >zettabyte</text>
<text x="1115.5" y="869.4" font-size="19.3" fill="#55565a" font-weight="normal" text-anchor="start" textLength="165.3" lengthAdjust="spacingAndGlyphs" ><tspan fill="#55565a">1.000</tspan><tspan fill="#b3b3b3">.000.000.000</tspan></text>
<text x="1292.4" y="869.4" font-size="19.3" fill="#55565a" font-weight="normal" text-anchor="start" textLength="82" lengthAdjust="spacingAndGlyphs" >exabytes</text>
<text x="1115.5" y="901.4" font-size="19.3" fill="#55565a" font-weight="normal" text-anchor="start" textLength="165.3" lengthAdjust="spacingAndGlyphs" ><tspan fill="#55565a">1.000.000</tspan><tspan fill="#b3b3b3">.000.000</tspan></text>
<text x="1292.4" y="901.4" font-size="19.3" fill="#55565a" font-weight="normal" text-anchor="start" textLength="92" lengthAdjust="spacingAndGlyphs" >petabytes</text>
<text x="1115.5" y="932.9" font-size="19.3" fill="#55565a" font-weight="normal" text-anchor="start" textLength="165.3" lengthAdjust="spacingAndGlyphs" ><tspan fill="#55565a">1.000.000.000</tspan><tspan fill="#b3b3b3">.000</tspan></text>
<text x="1292.4" y="932.9" font-size="19.3" fill="#55565a" font-weight="normal" text-anchor="start" textLength="86.7" lengthAdjust="spacingAndGlyphs" >terabytes</text>
<text x="1115.5" y="964.3" font-size="19.3" fill="#55565a" font-weight="normal" text-anchor="start" textLength="165.3" lengthAdjust="spacingAndGlyphs" ><tspan fill="#55565a">1.000.000.000.000</tspan></text>
<text x="1292.4" y="964.3" font-size="19.3" fill="#55565a" font-weight="normal" text-anchor="start" textLength="89" lengthAdjust="spacingAndGlyphs" >gigabytes</text>
<rect x="388.8" y="772.4" width="225.8" height="30.3" fill="#86a7df"/>
<text x="399.3" y="794.1999999999999" font-size="18.8" fill="#ffffff" font-weight="normal" text-anchor="start" textLength="57.6" lengthAdjust="spacingAndGlyphs" >Images</text>
<text x="657.7" y="796.4" font-size="25.2" fill="#e15329" font-weight="normal" text-anchor="start" textLength="32.4" lengthAdjust="spacingAndGlyphs" >350 b</text>
<rect x="388.8" y="809.6" width="258.5" height="30.3" fill="#86a7df"/>
<text x="399.3" y="831.4" font-size="18.8" fill="#ffffff" font-weight="normal" text-anchor="start" textLength="129" lengthAdjust="spacingAndGlyphs" >Social networks</text>
<text x="657.7" y="834.6" font-size="25.2" fill="#e15329" font-weight="normal" text-anchor="start" textLength="32.4" lengthAdjust="spacingAndGlyphs" >430 b</text>
<rect x="388.8" y="846.8" width="243.5" height="30.3" fill="#86a7df"/>
<text x="399.3" y="868.5999999999999" font-size="18.8" fill="#ffffff" font-weight="normal" text-anchor="start" textLength="33" lengthAdjust="spacingAndGlyphs" >Mail</text>
<text x="657.7" y="872.9" font-size="25.2" fill="#e15329" font-weight="normal" text-anchor="start" textLength="32.4" lengthAdjust="spacingAndGlyphs" >385 b</text>
<rect x="388.8" y="883.9" width="155.7" height="30.3" fill="#86a7df"/>
<text x="399.3" y="905.6999999999999" font-size="18.8" fill="#ffffff" font-weight="normal" text-anchor="start" textLength="45.5" lengthAdjust="spacingAndGlyphs" >Video</text>
<text x="657.7" y="910.8" font-size="25.2" fill="#e15329" font-weight="normal" text-anchor="start" textLength="32.4" lengthAdjust="spacingAndGlyphs" >250 b</text>
<rect x="388.8" y="920.8" width="91.2" height="30.3" fill="#86a7df"/>
<text x="399.3" y="942.5999999999999" font-size="18.8" fill="#ffffff" font-weight="normal" text-anchor="start" textLength="45" lengthAdjust="spacingAndGlyphs" >Blogs</text>
<text x="658.2" y="948.4" font-size="25.2" fill="#e15329" font-weight="normal" text-anchor="start" textLength="30" lengthAdjust="spacingAndGlyphs" >170 b</text>
<rect x="349.1" y="771.2" width="22.8" height="31.6" fill="#ffffff" stroke="#555659" stroke-width="1.2"/><path d="M351.3,799.8 V787.6 L355.3,780.8 L358.6,786 L361.5,789.9 L365.4,787.6 L368,793 L369.6,797.8 V799.8 Z" fill="#555659"/><circle cx="363.2" cy="779.5" r="3.6" fill="#555659"/>
<path d="M361.7,814.7 L350.2,835.3 H373 Z" fill="none" stroke="#555659" stroke-width="2"/><circle cx="361.7" cy="814.7" r="4.2" fill="#555659"/><circle cx="350.2" cy="835.3" r="4.2" fill="#555659"/><circle cx="373" cy="835.3" r="4.2" fill="#555659"/>
<g fill="#ffffff" stroke="#555659" stroke-width="1.1"><path d="M348.4,857.7 L351,855.8 V847.3 H372.8 V855.8 L374.9,857.7 V875.4 H348.4 Z"/><path d="M348.4,857.7 L361.5,867.5 L374.9,857.7" fill="none"/></g><path d="M353.5,851.6 H370 M353.5,854 H370 M353.5,856.5 H370 M353.5,859 H366" stroke="#555659" stroke-width="1"/>
<rect x="347" y="887.2" width="31.9" height="23.1" fill="#ffffff" stroke="#555659" stroke-width="1.9"/><polygon points="358.4,892 358.4,906.1 371.6,899" fill="#555659"/>
<circle cx="356.9" cy="944.7" r="3.9" fill="#555659"/><path d="M352.9,933.9 A13.8,13.8 0 0 1 366.7,947.7" fill="none" stroke="#555659" stroke-width="5.3"/><path d="M352.9,925.2 A22.5,22.5 0 0 1 375.4,947.7" fill="none" stroke="#555659" stroke-width="5.3"/>
<text x="736.5" y="779" font-size="13.4" fill="#58595b" font-weight="normal" text-anchor="start" textLength="186.2" lengthAdjust="spacingAndGlyphs" >Data mining is an interdisciplinary</text>
<text x="736.5" y="801.3" font-size="13.4" fill="#58595b" font-weight="normal" text-anchor="start" textLength="159.8" lengthAdjust="spacingAndGlyphs" >subfield of computer science.</text>
<text x="736.5" y="824" font-size="13.4" fill="#58595b" font-weight="normal" text-anchor="start" textLength="167.6" lengthAdjust="spacingAndGlyphs" >It is the computational process</text>
<text x="736.5" y="846.2" font-size="13.4" fill="#58595b" font-weight="normal" text-anchor="start" textLength="125.1" lengthAdjust="spacingAndGlyphs" >of discovering patterns</text>
<text x="736.5" y="868.8" font-size="13.4" fill="#58595b" font-weight="normal" text-anchor="start" textLength="158.4" lengthAdjust="spacingAndGlyphs" >in large data sets ("big data")</text>
<text x="736.5" y="891" font-size="13.4" fill="#58595b" font-weight="normal" text-anchor="start" textLength="135.5" lengthAdjust="spacingAndGlyphs" >involving methods at the</text>
<text x="736.5" y="913.7" font-size="13.4" fill="#58595b" font-weight="normal" text-anchor="start" textLength="126.5" lengthAdjust="spacingAndGlyphs" >intersection of artificial</text>
<text x="736.5" y="936" font-size="13.4" fill="#58595b" font-weight="normal" text-anchor="start" textLength="167.4" lengthAdjust="spacingAndGlyphs" >intelligence, machine learning,</text>
<text x="736.5" y="958.6" font-size="13.4" fill="#58595b" font-weight="normal" text-anchor="start" textLength="178.6" lengthAdjust="spacingAndGlyphs" >statistics, and database systems.</text>
<text x="1027.8" y="785.4" font-size="16.6" fill="#bdb4b6" font-weight="normal" text-anchor="start" textLength="8.4" lengthAdjust="spacingAndGlyphs" >0</text>
<text x="1048.2" y="785.4" font-size="16.6" fill="#e15329" font-weight="normal" text-anchor="start" textLength="8.4" lengthAdjust="spacingAndGlyphs" >1</text>
<text x="988.1999999999999" y="806.3" font-size="16.6" fill="#0b8db8" font-weight="normal" text-anchor="start" textLength="8.4" lengthAdjust="spacingAndGlyphs" >1</text>
<text x="1007.5999999999999" y="806.3" font-size="16.6" fill="#bdb4b6" font-weight="normal" text-anchor="start" textLength="8.4" lengthAdjust="spacingAndGlyphs" >0</text>
<text x="1027.8" y="806.3" font-size="16.6" fill="#bdb4b6" font-weight="normal" text-anchor="start" textLength="8.4" lengthAdjust="spacingAndGlyphs" >1</text>
<text x="1048.2" y="806.3" font-size="16.6" fill="#7f9fd8" font-weight="normal" text-anchor="start" textLength="8.4" lengthAdjust="spacingAndGlyphs" >0</text>
<text x="967.0999999999999" y="827.4" font-size="16.6" fill="#bdb4b6" font-weight="normal" text-anchor="start" textLength="8.4" lengthAdjust="spacingAndGlyphs" >1</text>
<text x="988.1999999999999" y="827.4" font-size="16.6" fill="#7f9fd8" font-weight="normal" text-anchor="start" textLength="8.4" lengthAdjust="spacingAndGlyphs" >0</text>
<text x="1007.5999999999999" y="827.4" font-size="16.6" fill="#bdb4b6" font-weight="normal" text-anchor="start" textLength="8.4" lengthAdjust="spacingAndGlyphs" >1</text>
<text x="1027.8" y="827.4" font-size="16.6" fill="#e15329" font-weight="normal" text-anchor="start" textLength="8.4" lengthAdjust="spacingAndGlyphs" >0</text>
<text x="1048.2" y="827.4" font-size="16.6" fill="#bdb4b6" font-weight="normal" text-anchor="start" textLength="8.4" lengthAdjust="spacingAndGlyphs" >1</text>
<text x="967.0999999999999" y="848.5" font-size="16.6" fill="#0b8db8" font-weight="normal" text-anchor="start" textLength="8.4" lengthAdjust="spacingAndGlyphs" >0</text>
<text x="988.1999999999999" y="848.5" font-size="16.6" fill="#bdb4b6" font-weight="normal" text-anchor="start" textLength="8.4" lengthAdjust="spacingAndGlyphs" >1</text>
<text x="1007.5999999999999" y="848.5" font-size="16.6" fill="#7f9fd8" font-weight="normal" text-anchor="start" textLength="8.4" lengthAdjust="spacingAndGlyphs" >1</text>
<text x="1027.8" y="848.5" font-size="16.6" fill="#bdb4b6" font-weight="normal" text-anchor="start" textLength="8.4" lengthAdjust="spacingAndGlyphs" >0</text>
<text x="1048.2" y="848.5" font-size="16.6" fill="#e15329" font-weight="normal" text-anchor="start" textLength="8.4" lengthAdjust="spacingAndGlyphs" >0</text>
<text x="1048.2" y="869.4" font-size="16.6" fill="#bdb4b6" font-weight="normal" text-anchor="start" textLength="8.4" lengthAdjust="spacingAndGlyphs" >1</text>
<path d="M927,842.6 L1066.5,905.2" stroke="#e15329" stroke-width="12" fill="none"/><path d="M925.4,846.2 L1064.9,908.8" stroke="#c24428" stroke-width="4.2" fill="none"/>
<path d="M961.1,863.3 V936.1 A35.349999999999966,6.5 0 0 0 1031.8,936.1 V863.3 Z" fill="#3e4d69"/><path d="M996.45,863.3 V942.6 A35.349999999999966,6.5 0 0 0 1031.8,936.1 V863.3 Z" fill="#475976"/><path d="M961.1,886.9964 A35.349999999999966,6.5 0 0 0 1031.8,886.9964 V892.1964 A35.349999999999966,6.5 0 0 1 961.1,892.1964 Z" fill="#2a3548"/><path d="M961.1,912.5856 A35.349999999999966,6.5 0 0 0 1031.8,912.5856 V917.7856 A35.349999999999966,6.5 0 0 1 961.1,917.7856 Z" fill="#2a3548"/><ellipse cx="996.45" cy="863.3" rx="35.349999999999966" ry="6.5" fill="#b3aaa4"/><path d="M996.45,856.8 A35.349999999999966,6.5 0 0 1 996.45,869.8 Z" fill="#c3bbb5"/>
<rect x="1021.8" y="868.5" width="6.6" height="68" fill="#5b7095" opacity="0.8"/>
<path d="M980.4,779.6 C948,804 919,858 910.7,911.5 L920.4,913.2 C933,860 962,806 980.4,779.6 Z" fill="#3e4d69"/>
<polygon points="932,838.6 949.3,844 946,855.7 929,850.4" fill="#475976"/>
<path d="M1000.8,893.9 L971.4,952.2 M1000.8,893.9 L1013.6,912.6 M1063.6,875 L1047.9,909.3" stroke="#c9c1c2" stroke-width="1.6" fill="none"/>
<circle cx="1000.8" cy="893.9" r="3.9" fill="#e15329"/>
<circle cx="971.4" cy="952.2" r="3.9" fill="#e15329"/>
<circle cx="1063.6" cy="875" r="3.9" fill="#e15329"/>
<circle cx="1033.2" cy="938.8" r="31.4" fill="#35476b"/><circle cx="1033.2" cy="938.8" r="29" fill="#7999d8"/><path d="M1033.2,909.8 A29,29 0 0 1 1033.2,967.8 Z" fill="#80a0dc"/><path d="M1033.2,938.8 L1018.7,920.3 A23.5,23.5 0 0 1 1056.0,944.5 Z" fill="#9bbaee"/><path d="M1033.2,915.3 L1033.2,938.8 L1056.0,944.5 A23.5,23.5 0 0 0 1033.2,915.3 Z" fill="#a6c3f2" opacity="0.55"/>
<path d="M1012.0,953.1 A25.6,25.6 0 0 1 1049.0,918.6" fill="none" stroke="#2a8cc6" stroke-width="1.1"/>
<path d="M1012.0,953.1 L1014.8,951.2 M1009.0,947.3 L1012.2,946.1 M1007.7,940.9 L1011.1,940.6 M1008.0,934.3 L1011.3,934.9 M1010.0,928.1 L1013.0,929.5 M1013.4,922.5 L1016.1,924.7 M1018.2,918.0 L1020.2,920.8 M1024.0,914.9 L1025.2,918.1 M1030.3,913.4 L1030.7,916.7 M1036.9,913.5 L1036.4,916.8 M1043.2,915.2 L1041.9,918.4 M1048.9,918.5 L1046.8,921.2" stroke="#2a8cc6" stroke-width="0.9" fill="none"/>
<path d="M1053.1,923.3 A25.2,25.2 0 0 1 1054.8,951.8" fill="none" stroke="#e15329" stroke-width="1.5"/><path d="M1051.7,948.7 L1054.7,952.7 L1058.6,950.6" fill="none" stroke="#e15329" stroke-width="1.4"/>
<path d="M1053.1,923.3 L1050.5,925.3 M1056.2,928.6 L1053.3,929.9 M1058.0,934.4 L1054.9,935.0 M1058.3,940.6 L1055.1,940.3 M1057.2,946.6 L1054.1,945.6" stroke="#e15329" stroke-width="0.9" fill="none"/>
<polygon points="1031.8,938.1999999999999 1034.4,940.4 1049.6,921.6" fill="#e15329"/><circle cx="1032.9" cy="939.1999999999999" r="2.5" fill="#e15329"/>
<rect x="1022.1" y="953.8" width="21.6" height="7.4" rx="3.4" fill="#dfe6f3"/><path d="M1026.8,955.4 v4 M1028.9,955.4 v4 M1031,955.4 v4 M1036.2,955.4 v4 M1038.4,955.4 v4" stroke="#2f3a52" stroke-width="1.3"/>
</svg>
</body>
</html>
